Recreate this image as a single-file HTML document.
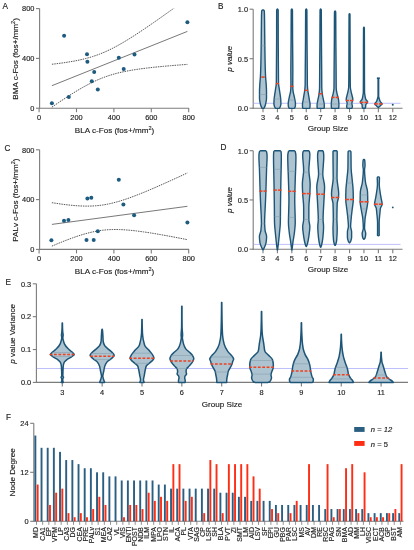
<!DOCTYPE html><html><head><meta charset="utf-8"><style>html,body{margin:0;padding:0;background:#fff;width:414px;height:550px;overflow:hidden}svg{display:block;will-change:transform;filter:blur(0.3px)} text{stroke:#222;stroke-width:0.15px}</style></head><body><svg width="414" height="550" viewBox="0 0 414 550" font-family="Liberation Sans, sans-serif" fill="#222">
<rect width="414" height="550" fill="#fff"/>
<text x="2.50" y="8.90" font-size="8.2" text-anchor="start" >A</text>
<text x="218.00" y="9.10" font-size="8.2" text-anchor="start" >B</text>
<text x="4.60" y="150.60" font-size="8.2" text-anchor="start" >C</text>
<text x="220.50" y="150.20" font-size="8.2" text-anchor="start" >D</text>
<text x="5.50" y="284.80" font-size="8.2" text-anchor="start" >E</text>
<text x="6.00" y="420.20" font-size="8.2" text-anchor="start" >F</text>
<line x1="39.60" y1="8.60" x2="39.60" y2="108.70" stroke="#7c7c7c" stroke-width="1.1" />
<line x1="39.10" y1="108.20" x2="189.10" y2="108.20" stroke="#7c7c7c" stroke-width="1.1" />
<line x1="36.00" y1="108.20" x2="39.60" y2="108.20" stroke="#7c7c7c" stroke-width="1.1" />
<text x="34.40" y="111.00" font-size="7.4" text-anchor="end" >0</text>
<line x1="36.00" y1="58.40" x2="39.60" y2="58.40" stroke="#7c7c7c" stroke-width="1.1" />
<text x="34.40" y="61.20" font-size="7.4" text-anchor="end" >400</text>
<line x1="36.00" y1="8.60" x2="39.60" y2="8.60" stroke="#7c7c7c" stroke-width="1.1" />
<text x="34.40" y="11.40" font-size="7.4" text-anchor="end" >800</text>
<line x1="39.10" y1="108.20" x2="39.10" y2="112.20" stroke="#7c7c7c" stroke-width="1.1" />
<text x="39.10" y="119.70" font-size="7.4" text-anchor="middle" >0</text>
<line x1="76.50" y1="108.20" x2="76.50" y2="112.20" stroke="#7c7c7c" stroke-width="1.1" />
<text x="76.50" y="119.70" font-size="7.4" text-anchor="middle" >200</text>
<line x1="113.90" y1="108.20" x2="113.90" y2="112.20" stroke="#7c7c7c" stroke-width="1.1" />
<text x="113.90" y="119.70" font-size="7.4" text-anchor="middle" >400</text>
<line x1="151.30" y1="108.20" x2="151.30" y2="112.20" stroke="#7c7c7c" stroke-width="1.1" />
<text x="151.30" y="119.70" font-size="7.4" text-anchor="middle" >600</text>
<line x1="188.70" y1="108.20" x2="188.70" y2="112.20" stroke="#7c7c7c" stroke-width="1.1" />
<text x="188.70" y="119.70" font-size="7.4" text-anchor="middle" >800</text>
<text x="114.5" y="132.7" font-size="8.1" text-anchor="middle">BLA c-Fos (fos+/mm<tspan dy="-2.6" font-size="5.5">2</tspan><tspan dy="2.6">)</tspan></text>
<text transform="translate(17.7,58.900000000000006) rotate(-90)" font-size="8.1" text-anchor="middle">BMA c-Fos (fos+/mm<tspan dy="-2.6" font-size="5.5">2</tspan><tspan dy="2.6">)</tspan></text>
<clipPath id="cA"><rect x="39.6" y="8.600000000000009" width="152" height="99.6"/></clipPath>
<line x1="51.90" y1="85.70" x2="187.40" y2="31.40" stroke="#555" stroke-width="0.8" />
<path d="M51.90,64.25 L55.29,63.85 L58.67,63.44 L62.06,62.99 L65.45,62.51 L68.84,61.98 L72.22,61.42 L75.61,60.80 L79.00,60.11 L82.39,59.36 L85.78,58.53 L89.16,57.61 L92.55,56.59 L95.94,55.46 L99.32,54.23 L102.71,52.88 L106.10,51.41 L109.49,49.83 L112.88,48.15 L116.26,46.36 L119.65,44.49 L123.04,42.53 L126.43,40.51 L129.81,38.42 L133.20,36.28 L136.59,34.09 L139.97,31.86 L143.36,29.60 L146.75,27.30 L150.14,24.98 L153.53,22.64 L156.91,20.28 L160.30,17.89 L163.69,15.50 L167.07,13.09 L170.46,10.66 L173.85,8.23 L177.24,5.79 L180.62,3.34 L184.01,0.88 L187.40,-1.59" fill="none" stroke="#444" stroke-width="0.9" stroke-dasharray="1.5,0.9" clip-path="url(#cA)"/>
<path d="M51.90,107.15 L55.29,104.83 L58.67,102.53 L62.06,100.27 L65.45,98.03 L68.84,95.84 L72.22,93.69 L75.61,91.60 L79.00,89.57 L82.39,87.61 L85.78,85.72 L89.16,83.93 L92.55,82.23 L95.94,80.64 L99.32,79.16 L102.71,77.80 L106.10,76.55 L109.49,75.41 L112.88,74.38 L116.26,73.45 L119.65,72.61 L123.04,71.85 L126.43,71.16 L129.81,70.53 L133.20,69.96 L136.59,69.43 L139.97,68.95 L143.36,68.50 L146.75,68.08 L150.14,67.68 L153.53,67.31 L156.91,66.96 L160.30,66.63 L163.69,66.31 L167.07,66.00 L170.46,65.71 L173.85,65.43 L177.24,65.16 L180.62,64.89 L184.01,64.64 L187.40,64.39" fill="none" stroke="#444" stroke-width="0.9" stroke-dasharray="1.5,0.9" clip-path="url(#cA)"/>
<circle cx="51.9" cy="103.2" r="2.0" fill="#1d5b80"/>
<circle cx="68.8" cy="96.9" r="2.0" fill="#1d5b80"/>
<circle cx="64.1" cy="35.8" r="2.0" fill="#1d5b80"/>
<circle cx="87" cy="54.3" r="2.0" fill="#1d5b80"/>
<circle cx="87.4" cy="61.8" r="2.0" fill="#1d5b80"/>
<circle cx="94.2" cy="72" r="2.0" fill="#1d5b80"/>
<circle cx="91.8" cy="81.2" r="2.0" fill="#1d5b80"/>
<circle cx="97.8" cy="89.4" r="2.0" fill="#1d5b80"/>
<circle cx="118.8" cy="57.7" r="2.0" fill="#1d5b80"/>
<circle cx="134.5" cy="54.6" r="2.0" fill="#1d5b80"/>
<circle cx="123.7" cy="69.1" r="2.0" fill="#1d5b80"/>
<circle cx="187.4" cy="22.2" r="2.0" fill="#1d5b80"/>
<line x1="39.60" y1="149.80" x2="39.60" y2="249.90" stroke="#7c7c7c" stroke-width="1.1" />
<line x1="39.10" y1="249.40" x2="189.10" y2="249.40" stroke="#7c7c7c" stroke-width="1.1" />
<line x1="36.00" y1="249.40" x2="39.60" y2="249.40" stroke="#7c7c7c" stroke-width="1.1" />
<text x="34.40" y="252.20" font-size="7.4" text-anchor="end" >0</text>
<line x1="36.00" y1="199.60" x2="39.60" y2="199.60" stroke="#7c7c7c" stroke-width="1.1" />
<text x="34.40" y="202.40" font-size="7.4" text-anchor="end" >400</text>
<line x1="36.00" y1="149.80" x2="39.60" y2="149.80" stroke="#7c7c7c" stroke-width="1.1" />
<text x="34.40" y="152.60" font-size="7.4" text-anchor="end" >800</text>
<line x1="39.10" y1="249.40" x2="39.10" y2="253.40" stroke="#7c7c7c" stroke-width="1.1" />
<text x="39.10" y="260.90" font-size="7.4" text-anchor="middle" >0</text>
<line x1="76.50" y1="249.40" x2="76.50" y2="253.40" stroke="#7c7c7c" stroke-width="1.1" />
<text x="76.50" y="260.90" font-size="7.4" text-anchor="middle" >200</text>
<line x1="113.90" y1="249.40" x2="113.90" y2="253.40" stroke="#7c7c7c" stroke-width="1.1" />
<text x="113.90" y="260.90" font-size="7.4" text-anchor="middle" >400</text>
<line x1="151.30" y1="249.40" x2="151.30" y2="253.40" stroke="#7c7c7c" stroke-width="1.1" />
<text x="151.30" y="260.90" font-size="7.4" text-anchor="middle" >600</text>
<line x1="188.70" y1="249.40" x2="188.70" y2="253.40" stroke="#7c7c7c" stroke-width="1.1" />
<text x="188.70" y="260.90" font-size="7.4" text-anchor="middle" >800</text>
<text x="114.5" y="273.9" font-size="8.1" text-anchor="middle">BLA c-Fos (fos+/mm<tspan dy="-2.6" font-size="5.5">2</tspan><tspan dy="2.6">)</tspan></text>
<text transform="translate(17.7,200.10000000000002) rotate(-90)" font-size="8.1" text-anchor="middle">PALv c-Fos (fos+/mm<tspan dy="-2.6" font-size="5.5">2</tspan><tspan dy="2.6">)</tspan></text>
<clipPath id="cC"><rect x="39.6" y="149.8" width="152" height="99.6"/></clipPath>
<line x1="51.90" y1="224.40" x2="187.40" y2="206.30" stroke="#555" stroke-width="0.8" />
<path d="M51.90,202.70 L55.29,203.22 L58.67,203.72 L62.06,204.19 L65.45,204.62 L68.84,205.01 L72.22,205.36 L75.61,205.65 L79.00,205.88 L82.39,206.04 L85.78,206.12 L89.16,206.10 L92.55,205.99 L95.94,205.78 L99.32,205.45 L102.71,205.00 L106.10,204.44 L109.49,203.76 L112.88,202.98 L116.26,202.09 L119.65,201.12 L123.04,200.06 L126.43,198.94 L129.81,197.75 L133.20,196.50 L136.59,195.21 L139.97,193.87 L143.36,192.51 L146.75,191.11 L150.14,189.68 L153.53,188.23 L156.91,186.76 L160.30,185.27 L163.69,183.77 L167.07,182.25 L170.46,180.72 L173.85,179.18 L177.24,177.63 L180.62,176.07 L184.01,174.50 L187.40,172.93" fill="none" stroke="#444" stroke-width="0.9" stroke-dasharray="1.5,0.9" clip-path="url(#cC)"/>
<path d="M51.90,246.10 L55.29,244.68 L58.67,243.27 L62.06,241.90 L65.45,240.56 L68.84,239.26 L72.22,238.01 L75.61,236.82 L79.00,235.68 L82.39,234.62 L85.78,233.63 L89.16,232.74 L92.55,231.95 L95.94,231.26 L99.32,230.68 L102.71,230.22 L106.10,229.88 L109.49,229.65 L112.88,229.53 L116.26,229.51 L119.65,229.58 L123.04,229.73 L126.43,229.95 L129.81,230.24 L133.20,230.58 L136.59,230.97 L139.97,231.40 L143.36,231.86 L146.75,232.35 L150.14,232.88 L153.53,233.42 L156.91,233.99 L160.30,234.57 L163.69,235.17 L167.07,235.78 L170.46,236.41 L173.85,237.04 L177.24,237.69 L180.62,238.34 L184.01,239.00 L187.40,239.67" fill="none" stroke="#444" stroke-width="0.9" stroke-dasharray="1.5,0.9" clip-path="url(#cC)"/>
<circle cx="51.4" cy="240.2" r="2.0" fill="#1d5b80"/>
<circle cx="64" cy="220.7" r="2.0" fill="#1d5b80"/>
<circle cx="68.4" cy="220" r="2.0" fill="#1d5b80"/>
<circle cx="86.5" cy="240" r="2.0" fill="#1d5b80"/>
<circle cx="93.7" cy="240" r="2.0" fill="#1d5b80"/>
<circle cx="87.4" cy="198.5" r="2.0" fill="#1d5b80"/>
<circle cx="91.3" cy="197.8" r="2.0" fill="#1d5b80"/>
<circle cx="97.8" cy="231.2" r="2.0" fill="#1d5b80"/>
<circle cx="118.8" cy="179.7" r="2.0" fill="#1d5b80"/>
<circle cx="123.4" cy="204.6" r="2.0" fill="#1d5b80"/>
<circle cx="134.1" cy="215.2" r="2.0" fill="#1d5b80"/>
<circle cx="187.4" cy="222.4" r="2.0" fill="#1d5b80"/>
<line x1="253.20" y1="9.20" x2="253.20" y2="108.70" stroke="#7c7c7c" stroke-width="1.1" />
<line x1="252.70" y1="108.20" x2="402.50" y2="108.20" stroke="#7c7c7c" stroke-width="1.1" />
<line x1="249.60" y1="108.20" x2="253.20" y2="108.20" stroke="#7c7c7c" stroke-width="1.1" />
<text x="248.00" y="111.00" font-size="7.4" text-anchor="end" >0.0</text>
<line x1="249.60" y1="58.70" x2="253.20" y2="58.70" stroke="#7c7c7c" stroke-width="1.1" />
<text x="248.00" y="61.50" font-size="7.4" text-anchor="end" >0.5</text>
<line x1="249.60" y1="9.20" x2="253.20" y2="9.20" stroke="#7c7c7c" stroke-width="1.1" />
<text x="248.00" y="12.00" font-size="7.4" text-anchor="end" >1.0</text>
<line x1="253.70" y1="103.30" x2="400.50" y2="103.30" stroke="#adb0fb" stroke-width="0.8" />
<line x1="263.00" y1="108.20" x2="263.00" y2="112.20" stroke="#7c7c7c" stroke-width="1.1" />
<text x="263.00" y="120.20" font-size="7.4" text-anchor="middle" >3</text>
<line x1="277.42" y1="108.20" x2="277.42" y2="112.20" stroke="#7c7c7c" stroke-width="1.1" />
<text x="277.42" y="120.20" font-size="7.4" text-anchor="middle" >4</text>
<line x1="291.84" y1="108.20" x2="291.84" y2="112.20" stroke="#7c7c7c" stroke-width="1.1" />
<text x="291.84" y="120.20" font-size="7.4" text-anchor="middle" >5</text>
<line x1="306.26" y1="108.20" x2="306.26" y2="112.20" stroke="#7c7c7c" stroke-width="1.1" />
<text x="306.26" y="120.20" font-size="7.4" text-anchor="middle" >6</text>
<line x1="320.68" y1="108.20" x2="320.68" y2="112.20" stroke="#7c7c7c" stroke-width="1.1" />
<text x="320.68" y="120.20" font-size="7.4" text-anchor="middle" >7</text>
<line x1="335.10" y1="108.20" x2="335.10" y2="112.20" stroke="#7c7c7c" stroke-width="1.1" />
<text x="335.10" y="120.20" font-size="7.4" text-anchor="middle" >8</text>
<line x1="349.52" y1="108.20" x2="349.52" y2="112.20" stroke="#7c7c7c" stroke-width="1.1" />
<text x="349.52" y="120.20" font-size="7.4" text-anchor="middle" >9</text>
<line x1="363.94" y1="108.20" x2="363.94" y2="112.20" stroke="#7c7c7c" stroke-width="1.1" />
<text x="363.94" y="120.20" font-size="7.4" text-anchor="middle" >10</text>
<line x1="378.36" y1="108.20" x2="378.36" y2="112.20" stroke="#7c7c7c" stroke-width="1.1" />
<text x="378.36" y="120.20" font-size="7.4" text-anchor="middle" >11</text>
<line x1="392.78" y1="108.20" x2="392.78" y2="112.20" stroke="#7c7c7c" stroke-width="1.1" />
<text x="392.78" y="120.20" font-size="7.4" text-anchor="middle" >12</text>
<text x="328.00" y="131.00" font-size="8.1" text-anchor="middle" >Group Size</text>
<text transform="translate(232,58.7) rotate(-90)" font-size="8.1" text-anchor="middle" font-style="italic">p value</text>
<path d="M263.00,10.00 L263.50,10.00 C263.77,10.33 264.28,10.67 264.30,11.00 C264.57,15.33 264.54,19.67 264.60,24.00 C264.69,30.33 264.72,36.67 264.80,43.00 C264.88,49.33 264.97,55.67 265.10,62.00 C265.15,64.67 265.22,67.33 265.30,70.00 C265.37,72.37 265.47,74.73 265.60,77.10 C265.71,79.07 265.98,81.03 266.10,83.00 C266.28,85.90 266.50,88.80 266.50,91.70 C266.50,93.90 266.50,96.10 266.50,98.30 C266.50,99.73 266.16,101.17 265.90,102.60 C265.73,103.57 265.50,104.53 265.20,105.50 C265.00,106.13 264.72,106.77 264.40,107.40 C264.23,107.73 264.00,108.07 263.80,108.40 L263.00,108.40 L262.20,108.40 C262.00,108.07 261.77,107.73 261.60,107.40 C261.28,106.77 261.00,106.13 260.80,105.50 C260.50,104.53 260.27,103.57 260.10,102.60 C259.84,101.17 259.50,99.73 259.50,98.30 C259.50,96.10 259.50,93.90 259.50,91.70 C259.50,88.80 259.72,85.90 259.90,83.00 C260.02,81.03 260.29,79.07 260.40,77.10 C260.53,74.73 260.63,72.37 260.70,70.00 C260.78,67.33 260.85,64.67 260.90,62.00 C261.03,55.67 261.12,49.33 261.20,43.00 C261.28,36.67 261.31,30.33 261.40,24.00 C261.46,19.67 261.43,15.33 261.70,11.00 C261.72,10.67 262.23,10.33 262.50,10.00 Z" fill="#adc3d0" stroke="#1c5578" stroke-width="1.4" stroke-linejoin="round"/>
<line x1="261.16" y1="45.70" x2="264.84" y2="45.70" stroke="#7f98a8" stroke-width="0.5" />
<line x1="259.50" y1="94.50" x2="266.50" y2="94.50" stroke="#7f98a8" stroke-width="0.5" />
<line x1="261.30" y1="77.10" x2="264.70" y2="77.10" stroke="#f0401e" stroke-width="1.5" />
<path d="M277.42,9.00 L277.57,9.00 C277.77,9.33 278.17,9.67 278.17,10.00 C278.22,20.00 278.19,30.00 278.22,40.00 C278.25,50.00 278.35,60.00 278.42,70.00 C278.45,74.53 278.45,79.07 278.52,83.60 C278.55,85.23 278.98,86.87 279.22,88.50 C279.48,90.30 279.77,92.10 280.02,93.90 C280.27,95.70 280.60,97.50 280.72,99.30 C280.82,100.77 280.92,102.23 280.92,103.70 C280.92,104.60 280.69,105.50 280.42,106.40 C280.28,106.87 279.97,107.33 279.62,107.80 C279.47,108.00 279.22,108.20 279.02,108.40 L277.42,108.40 L275.82,108.40 C275.62,108.20 275.37,108.00 275.22,107.80 C274.87,107.33 274.56,106.87 274.42,106.40 C274.15,105.50 273.92,104.60 273.92,103.70 C273.92,102.23 274.02,100.77 274.12,99.30 C274.24,97.50 274.57,95.70 274.82,93.90 C275.07,92.10 275.36,90.30 275.62,88.50 C275.86,86.87 276.29,85.23 276.32,83.60 C276.39,79.07 276.39,74.53 276.42,70.00 C276.49,60.00 276.59,50.00 276.62,40.00 C276.65,30.00 276.62,20.00 276.67,10.00 C276.67,9.67 277.07,9.33 277.27,9.00 Z" fill="#adc3d0" stroke="#1c5578" stroke-width="1.4" stroke-linejoin="round"/>
<line x1="274.16" y1="99.00" x2="280.68" y2="99.00" stroke="#7f98a8" stroke-width="0.5" />
<line x1="275.82" y1="83.60" x2="279.02" y2="83.60" stroke="#f0401e" stroke-width="1.5" />
<path d="M291.84,9.00 L291.99,9.00 C292.14,9.33 292.44,9.67 292.44,10.00 C292.58,20.00 292.53,30.00 292.59,40.00 C292.65,50.00 292.84,60.00 292.84,70.00 C292.84,75.43 292.74,80.87 292.74,86.30 C292.74,88.10 292.93,89.90 293.14,91.70 C293.30,93.13 293.83,94.57 294.14,96.00 C294.42,97.30 294.71,98.60 294.94,99.90 C295.13,101.00 295.44,102.10 295.44,103.20 C295.44,104.10 295.42,105.00 295.39,105.90 C295.37,106.47 295.11,107.03 294.84,107.60 C294.71,107.87 294.44,108.13 294.24,108.40 L291.84,108.40 L289.44,108.40 C289.24,108.13 288.97,107.87 288.84,107.60 C288.57,107.03 288.31,106.47 288.29,105.90 C288.26,105.00 288.24,104.10 288.24,103.20 C288.24,102.10 288.55,101.00 288.74,99.90 C288.97,98.60 289.26,97.30 289.54,96.00 C289.85,94.57 290.38,93.13 290.54,91.70 C290.75,89.90 290.94,88.10 290.94,86.30 C290.94,80.87 290.84,75.43 290.84,70.00 C290.84,60.00 291.03,50.00 291.09,40.00 C291.15,30.00 291.10,20.00 291.24,10.00 C291.24,9.67 291.54,9.33 291.69,9.00 Z" fill="#adc3d0" stroke="#1c5578" stroke-width="1.4" stroke-linejoin="round"/>
<line x1="288.72" y1="100.00" x2="294.96" y2="100.00" stroke="#7f98a8" stroke-width="0.5" />
<line x1="290.24" y1="86.30" x2="293.44" y2="86.30" stroke="#f0401e" stroke-width="1.5" />
<path d="M306.26,9.00 L306.41,9.00 C306.56,9.33 306.86,9.67 306.86,10.00 C307.00,20.00 306.95,30.00 307.01,40.00 C307.07,50.00 307.19,60.00 307.26,70.00 C307.30,75.00 307.29,80.00 307.36,85.00 C307.38,86.67 307.58,88.33 307.76,90.00 C307.94,91.67 308.29,93.33 308.56,95.00 C308.83,96.67 309.10,98.33 309.36,100.00 C309.60,101.50 310.06,103.00 310.06,104.50 C310.06,105.40 310.03,106.30 309.96,107.20 C309.93,107.60 309.63,108.00 309.46,108.40 L306.26,108.40 L303.06,108.40 C302.89,108.00 302.59,107.60 302.56,107.20 C302.49,106.30 302.46,105.40 302.46,104.50 C302.46,103.00 302.92,101.50 303.16,100.00 C303.42,98.33 303.69,96.67 303.96,95.00 C304.23,93.33 304.58,91.67 304.76,90.00 C304.94,88.33 305.14,86.67 305.16,85.00 C305.23,80.00 305.22,75.00 305.26,70.00 C305.33,60.00 305.45,50.00 305.51,40.00 C305.57,30.00 305.52,20.00 305.66,10.00 C305.66,9.67 305.96,9.33 306.11,9.00 Z" fill="#adc3d0" stroke="#1c5578" stroke-width="1.4" stroke-linejoin="round"/>
<line x1="302.85" y1="102.00" x2="309.67" y2="102.00" stroke="#7f98a8" stroke-width="0.5" />
<line x1="304.56" y1="90.30" x2="307.96" y2="90.30" stroke="#f0401e" stroke-width="1.5" />
<path d="M320.68,9.00 L320.83,9.00 C320.98,9.33 321.28,9.67 321.28,10.00 C321.42,20.00 321.37,30.00 321.43,40.00 C321.49,50.00 321.61,60.00 321.68,70.00 C321.72,76.00 321.71,82.00 321.78,88.00 C321.81,90.33 322.16,92.67 322.48,95.00 C322.71,96.67 323.18,98.33 323.48,100.00 C323.78,101.67 324.28,103.33 324.28,105.00 C324.28,105.80 324.28,106.60 324.28,107.40 C324.28,107.73 324.01,108.07 323.88,108.40 L320.68,108.40 L317.48,108.40 C317.35,108.07 317.08,107.73 317.08,107.40 C317.08,106.60 317.08,105.80 317.08,105.00 C317.08,103.33 317.58,101.67 317.88,100.00 C318.18,98.33 318.65,96.67 318.88,95.00 C319.20,92.67 319.55,90.33 319.58,88.00 C319.65,82.00 319.64,76.00 319.68,70.00 C319.75,60.00 319.87,50.00 319.93,40.00 C319.99,30.00 319.94,20.00 320.08,10.00 C320.08,9.67 320.38,9.33 320.53,9.00 Z" fill="#adc3d0" stroke="#1c5578" stroke-width="1.4" stroke-linejoin="round"/>
<line x1="317.24" y1="104.00" x2="324.12" y2="104.00" stroke="#7f98a8" stroke-width="0.5" />
<line x1="318.78" y1="93.80" x2="322.58" y2="93.80" stroke="#f0401e" stroke-width="1.5" />
<path d="M335.10,11.00 L335.25,11.00 C335.40,11.33 335.69,11.67 335.70,12.00 C335.84,21.33 335.79,30.67 335.85,40.00 C335.92,50.00 336.03,60.00 336.10,70.00 C336.14,76.00 336.12,82.00 336.20,88.00 C336.22,89.67 336.60,91.33 336.90,93.00 C337.14,94.33 337.58,95.67 337.90,97.00 C338.14,98.00 338.50,99.00 338.60,100.00 C338.77,101.67 338.90,103.33 338.90,105.00 C338.90,105.80 338.87,106.60 338.80,107.40 C338.77,107.73 338.53,108.07 338.40,108.40 L335.10,108.40 L331.80,108.40 C331.67,108.07 331.43,107.73 331.40,107.40 C331.33,106.60 331.30,105.80 331.30,105.00 C331.30,103.33 331.43,101.67 331.60,100.00 C331.70,99.00 332.06,98.00 332.30,97.00 C332.62,95.67 333.06,94.33 333.30,93.00 C333.60,91.33 333.98,89.67 334.00,88.00 C334.08,82.00 334.06,76.00 334.10,70.00 C334.17,60.00 334.28,50.00 334.35,40.00 C334.41,30.67 334.36,21.33 334.50,12.00 C334.51,11.67 334.80,11.33 334.95,11.00 Z" fill="#adc3d0" stroke="#1c5578" stroke-width="1.4" stroke-linejoin="round"/>
<line x1="331.36" y1="104.00" x2="338.84" y2="104.00" stroke="#7f98a8" stroke-width="0.5" />
<line x1="331.51" y1="97.40" x2="334.55" y2="97.40" stroke="#f0401e" stroke-width="1.5" />
<line x1="335.65" y1="97.40" x2="338.69" y2="97.40" stroke="#f0401e" stroke-width="1.5" />
<path d="M349.52,13.60 L349.67,13.60 C349.77,13.90 349.97,14.20 349.97,14.50 C350.11,29.67 350.05,44.83 350.12,60.00 C350.16,68.93 350.16,77.87 350.32,86.80 C350.35,88.77 350.94,90.73 351.32,92.70 C351.75,94.97 352.82,97.23 352.82,99.50 C352.82,100.80 351.82,102.10 351.82,103.40 C351.82,104.37 352.42,105.33 352.42,106.30 C352.42,106.80 352.30,107.30 352.12,107.80 C352.05,108.00 351.72,108.20 351.52,108.40 L349.52,108.40 L347.52,108.40 C347.32,108.20 346.99,108.00 346.92,107.80 C346.74,107.30 346.62,106.80 346.62,106.30 C346.62,105.33 347.22,104.37 347.22,103.40 C347.22,102.10 346.22,100.80 346.22,99.50 C346.22,97.23 347.29,94.97 347.72,92.70 C348.10,90.73 348.69,88.77 348.72,86.80 C348.88,77.87 348.88,68.93 348.92,60.00 C348.99,44.83 348.93,29.67 349.07,14.50 C349.07,14.20 349.27,13.90 349.37,13.60 Z" fill="#adc3d0" stroke="#1c5578" stroke-width="1.4" stroke-linejoin="round"/>
<line x1="347.10" y1="104.00" x2="351.94" y2="104.00" stroke="#7f98a8" stroke-width="0.5" />
<line x1="345.78" y1="100.50" x2="348.97" y2="100.50" stroke="#f0401e" stroke-width="1.5" />
<line x1="350.07" y1="100.50" x2="353.26" y2="100.50" stroke="#f0401e" stroke-width="1.5" />
<path d="M363.94,27.20 L364.09,27.20 C364.17,27.47 364.34,27.73 364.34,28.00 C364.44,38.67 364.41,49.33 364.44,60.00 C364.47,70.67 364.45,81.33 364.54,92.00 C364.55,93.33 364.83,94.67 365.04,96.00 C365.21,97.10 365.37,98.20 365.74,99.30 C366.04,100.20 367.64,101.10 367.64,102.00 C367.64,102.93 365.82,103.87 365.74,104.80 C365.68,105.53 365.70,106.27 365.64,107.00 C365.60,107.43 365.31,107.87 365.14,108.30 L363.94,108.30 L362.74,108.30 C362.57,107.87 362.28,107.43 362.24,107.00 C362.18,106.27 362.20,105.53 362.14,104.80 C362.06,103.87 360.24,102.93 360.24,102.00 C360.24,101.10 361.84,100.20 362.14,99.30 C362.51,98.20 362.67,97.10 362.84,96.00 C363.05,94.67 363.33,93.33 363.34,92.00 C363.43,81.33 363.41,70.67 363.44,60.00 C363.47,49.33 363.44,38.67 363.54,28.00 C363.54,27.73 363.71,27.47 363.79,27.20 Z" fill="#adc3d0" stroke="#1c5578" stroke-width="1.4" stroke-linejoin="round"/>
<line x1="359.81" y1="102.40" x2="363.39" y2="102.40" stroke="#f0401e" stroke-width="1.5" />
<line x1="364.49" y1="102.40" x2="368.07" y2="102.40" stroke="#f0401e" stroke-width="1.5" />
<path d="M378.36,79.00 L378.66,79.00 C378.66,79.33 378.66,79.67 378.66,80.00 C378.66,85.33 378.66,90.67 378.66,96.00 C378.66,96.83 378.95,97.67 379.16,98.50 C379.41,99.50 379.69,100.50 380.16,101.50 C380.53,102.30 381.96,103.10 381.96,103.90 C381.96,104.57 380.82,105.23 380.16,105.90 C379.70,106.37 378.96,106.83 378.66,107.30 C378.60,107.40 378.56,107.50 378.51,107.60 L378.36,107.60 L378.21,107.60 C378.16,107.50 378.12,107.40 378.06,107.30 C377.76,106.83 377.02,106.37 376.56,105.90 C375.90,105.23 374.76,104.57 374.76,103.90 C374.76,103.10 376.19,102.30 376.56,101.50 C377.03,100.50 377.31,99.50 377.56,98.50 C377.77,97.67 378.06,96.83 378.06,96.00 C378.06,90.67 378.06,85.33 378.06,80.00 C378.06,79.67 378.06,79.33 378.06,79.00 Z" fill="#adc3d0" stroke="#1c5578" stroke-width="1.4" stroke-linejoin="round"/>
<line x1="374.06" y1="103.90" x2="377.81" y2="103.90" stroke="#f0401e" stroke-width="1.5" />
<line x1="378.91" y1="103.90" x2="382.66" y2="103.90" stroke="#f0401e" stroke-width="1.5" />
<line x1="376.86" y1="78.2" x2="379.86" y2="78.2" stroke="#1c5578" stroke-width="1.6"/>
<circle cx="392.78" cy="104.8" r="1.0" fill="#1c5578"/>
<line x1="253.20" y1="150.70" x2="253.20" y2="249.70" stroke="#7c7c7c" stroke-width="1.1" />
<line x1="252.70" y1="249.20" x2="402.50" y2="249.20" stroke="#7c7c7c" stroke-width="1.1" />
<line x1="249.60" y1="249.20" x2="253.20" y2="249.20" stroke="#7c7c7c" stroke-width="1.1" />
<text x="248.00" y="252.00" font-size="7.4" text-anchor="end" >0.0</text>
<line x1="249.60" y1="199.95" x2="253.20" y2="199.95" stroke="#7c7c7c" stroke-width="1.1" />
<text x="248.00" y="202.75" font-size="7.4" text-anchor="end" >0.5</text>
<line x1="249.60" y1="150.70" x2="253.20" y2="150.70" stroke="#7c7c7c" stroke-width="1.1" />
<text x="248.00" y="153.50" font-size="7.4" text-anchor="end" >1.0</text>
<line x1="253.70" y1="244.40" x2="400.50" y2="244.40" stroke="#adb0fb" stroke-width="0.8" />
<line x1="263.00" y1="249.20" x2="263.00" y2="253.20" stroke="#7c7c7c" stroke-width="1.1" />
<text x="263.00" y="261.20" font-size="7.4" text-anchor="middle" >3</text>
<line x1="277.42" y1="249.20" x2="277.42" y2="253.20" stroke="#7c7c7c" stroke-width="1.1" />
<text x="277.42" y="261.20" font-size="7.4" text-anchor="middle" >4</text>
<line x1="291.84" y1="249.20" x2="291.84" y2="253.20" stroke="#7c7c7c" stroke-width="1.1" />
<text x="291.84" y="261.20" font-size="7.4" text-anchor="middle" >5</text>
<line x1="306.26" y1="249.20" x2="306.26" y2="253.20" stroke="#7c7c7c" stroke-width="1.1" />
<text x="306.26" y="261.20" font-size="7.4" text-anchor="middle" >6</text>
<line x1="320.68" y1="249.20" x2="320.68" y2="253.20" stroke="#7c7c7c" stroke-width="1.1" />
<text x="320.68" y="261.20" font-size="7.4" text-anchor="middle" >7</text>
<line x1="335.10" y1="249.20" x2="335.10" y2="253.20" stroke="#7c7c7c" stroke-width="1.1" />
<text x="335.10" y="261.20" font-size="7.4" text-anchor="middle" >8</text>
<line x1="349.52" y1="249.20" x2="349.52" y2="253.20" stroke="#7c7c7c" stroke-width="1.1" />
<text x="349.52" y="261.20" font-size="7.4" text-anchor="middle" >9</text>
<line x1="363.94" y1="249.20" x2="363.94" y2="253.20" stroke="#7c7c7c" stroke-width="1.1" />
<text x="363.94" y="261.20" font-size="7.4" text-anchor="middle" >10</text>
<line x1="378.36" y1="249.20" x2="378.36" y2="253.20" stroke="#7c7c7c" stroke-width="1.1" />
<text x="378.36" y="261.20" font-size="7.4" text-anchor="middle" >11</text>
<line x1="392.78" y1="249.20" x2="392.78" y2="253.20" stroke="#7c7c7c" stroke-width="1.1" />
<text x="392.78" y="261.20" font-size="7.4" text-anchor="middle" >12</text>
<text x="328.00" y="272.10" font-size="8.1" text-anchor="middle" >Group Size</text>
<text transform="translate(232,199.95) rotate(-90)" font-size="8.1" text-anchor="middle" font-style="italic">p value</text>
<path d="M263.00,150.80 L265.60,150.80 C265.90,151.03 266.44,151.27 266.50,151.50 C266.97,153.23 267.10,154.97 267.10,156.70 C267.10,160.57 266.74,164.43 266.60,168.30 C266.41,173.50 266.25,178.70 266.10,183.90 C266.03,186.30 265.98,188.70 265.90,191.10 C265.77,195.20 265.57,199.30 265.40,203.40 C265.14,209.87 264.60,216.33 264.60,222.80 C264.60,225.40 264.82,228.00 265.10,230.60 C265.30,232.53 266.60,234.47 266.60,236.40 C266.60,238.37 266.37,240.33 266.10,242.30 C265.89,243.87 265.22,245.43 264.60,247.00 C264.23,247.93 263.67,248.87 263.20,249.80 L263.00,249.80 L262.80,249.80 C262.33,248.87 261.77,247.93 261.40,247.00 C260.78,245.43 260.11,243.87 259.90,242.30 C259.63,240.33 259.40,238.37 259.40,236.40 C259.40,234.47 260.70,232.53 260.90,230.60 C261.18,228.00 261.40,225.40 261.40,222.80 C261.40,216.33 260.86,209.87 260.60,203.40 C260.43,199.30 260.23,195.20 260.10,191.10 C260.02,188.70 259.97,186.30 259.90,183.90 C259.75,178.70 259.59,173.50 259.40,168.30 C259.26,164.43 258.90,160.57 258.90,156.70 C258.90,154.97 259.03,153.23 259.50,151.50 C259.56,151.27 260.10,151.03 260.40,150.80 Z" fill="#adc3d0" stroke="#1c5578" stroke-width="1.4" stroke-linejoin="round"/>
<line x1="259.36" y1="167.40" x2="266.64" y2="167.40" stroke="#7f98a8" stroke-width="0.5" />
<line x1="261.34" y1="223.80" x2="264.66" y2="223.80" stroke="#7f98a8" stroke-width="0.5" />
<line x1="259.40" y1="191.10" x2="262.45" y2="191.10" stroke="#f0401e" stroke-width="1.5" />
<line x1="263.55" y1="191.10" x2="266.60" y2="191.10" stroke="#f0401e" stroke-width="1.5" />
<path d="M277.42,150.80 L280.22,150.80 C280.49,151.03 280.99,151.27 281.02,151.50 C281.27,153.23 281.32,154.97 281.32,156.70 C281.32,165.77 280.97,174.83 280.82,183.90 C280.71,190.40 280.60,196.90 280.52,203.40 C280.44,209.87 280.45,216.33 280.32,222.80 C280.26,226.03 279.81,229.27 279.52,232.50 C279.22,235.77 278.89,239.03 278.52,242.30 C278.24,244.80 277.89,247.30 277.57,249.80 L277.42,249.80 L277.27,249.80 C276.95,247.30 276.60,244.80 276.32,242.30 C275.95,239.03 275.62,235.77 275.32,232.50 C275.03,229.27 274.58,226.03 274.52,222.80 C274.39,216.33 274.40,209.87 274.32,203.40 C274.24,196.90 274.13,190.40 274.02,183.90 C273.87,174.83 273.52,165.77 273.52,156.70 C273.52,154.97 273.57,153.23 273.82,151.50 C273.85,151.27 274.35,151.03 274.62,150.80 Z" fill="#adc3d0" stroke="#1c5578" stroke-width="1.4" stroke-linejoin="round"/>
<line x1="273.75" y1="169.30" x2="281.09" y2="169.30" stroke="#7f98a8" stroke-width="0.5" />
<line x1="274.46" y1="216.60" x2="280.38" y2="216.60" stroke="#7f98a8" stroke-width="0.5" />
<line x1="273.42" y1="190.10" x2="276.87" y2="190.10" stroke="#f0401e" stroke-width="1.5" />
<line x1="277.97" y1="190.10" x2="281.42" y2="190.10" stroke="#f0401e" stroke-width="1.5" />
<path d="M291.84,150.80 L294.44,150.80 C294.71,151.03 295.17,151.27 295.24,151.50 C295.76,153.23 295.94,154.97 295.94,156.70 C295.94,164.47 295.45,172.23 295.24,180.00 C295.06,186.50 294.74,193.00 294.74,199.50 C294.74,207.27 295.24,215.03 295.24,222.80 C295.24,226.03 294.79,229.27 294.44,232.50 C294.09,235.77 293.39,239.03 292.94,242.30 C292.59,244.80 292.31,247.30 291.99,249.80 L291.84,249.80 L291.69,249.80 C291.37,247.30 291.09,244.80 290.74,242.30 C290.29,239.03 289.59,235.77 289.24,232.50 C288.89,229.27 288.44,226.03 288.44,222.80 C288.44,215.03 288.94,207.27 288.94,199.50 C288.94,193.00 288.62,186.50 288.44,180.00 C288.23,172.23 287.74,164.47 287.74,156.70 C287.74,154.97 287.92,153.23 288.44,151.50 C288.51,151.27 288.97,151.03 289.24,150.80 Z" fill="#adc3d0" stroke="#1c5578" stroke-width="1.4" stroke-linejoin="round"/>
<line x1="288.18" y1="171.30" x2="295.50" y2="171.30" stroke="#7f98a8" stroke-width="0.5" />
<line x1="288.56" y1="217.40" x2="295.12" y2="217.40" stroke="#7f98a8" stroke-width="0.5" />
<line x1="288.03" y1="191.30" x2="291.29" y2="191.30" stroke="#f0401e" stroke-width="1.5" />
<line x1="292.39" y1="191.30" x2="295.65" y2="191.30" stroke="#f0401e" stroke-width="1.5" />
<path d="M306.26,150.80 L308.66,150.80 C308.89,151.03 309.29,151.27 309.36,151.50 C309.70,152.57 309.86,153.63 309.86,154.70 C309.86,159.90 308.86,165.10 308.86,170.30 C308.86,174.83 310.16,179.37 310.16,183.90 C310.16,187.13 310.00,190.37 309.86,193.60 C309.67,198.17 308.86,202.73 308.86,207.30 C308.86,211.37 308.86,215.43 308.86,219.50 C308.86,221.90 309.86,224.30 309.86,226.70 C309.86,229.93 309.30,233.17 308.86,236.40 C308.51,238.93 308.06,241.47 307.36,244.00 C307.13,244.83 306.73,245.67 306.41,246.50 L306.26,246.50 L306.11,246.50 C305.79,245.67 305.39,244.83 305.16,244.00 C304.46,241.47 304.01,238.93 303.66,236.40 C303.22,233.17 302.66,229.93 302.66,226.70 C302.66,224.30 303.66,221.90 303.66,219.50 C303.66,215.43 303.66,211.37 303.66,207.30 C303.66,202.73 302.85,198.17 302.66,193.60 C302.52,190.37 302.36,187.13 302.36,183.90 C302.36,179.37 303.66,174.83 303.66,170.30 C303.66,165.10 302.66,159.90 302.66,154.70 C302.66,153.63 302.82,152.57 303.16,151.50 C303.23,151.27 303.63,151.03 303.86,150.80 Z" fill="#adc3d0" stroke="#1c5578" stroke-width="1.4" stroke-linejoin="round"/>
<line x1="303.48" y1="172.20" x2="309.04" y2="172.20" stroke="#7f98a8" stroke-width="0.5" />
<line x1="303.66" y1="219.50" x2="308.86" y2="219.50" stroke="#7f98a8" stroke-width="0.5" />
<line x1="301.96" y1="193.60" x2="305.71" y2="193.60" stroke="#f0401e" stroke-width="1.5" />
<line x1="306.81" y1="193.60" x2="310.56" y2="193.60" stroke="#f0401e" stroke-width="1.5" />
<path d="M320.68,150.80 L322.68,150.80 C322.88,151.03 323.23,151.27 323.28,151.50 C323.66,153.23 323.78,154.97 323.78,156.70 C323.78,162.53 322.78,168.37 322.78,174.20 C322.78,178.40 324.58,182.60 324.58,186.80 C324.58,189.27 324.39,191.73 324.28,194.20 C324.14,197.27 323.93,200.33 323.78,203.40 C323.52,208.77 323.08,214.13 323.08,219.50 C323.08,221.90 323.58,224.30 323.58,226.70 C323.58,230.60 323.18,234.50 322.78,238.40 C322.55,240.60 322.12,242.80 321.58,245.00 C321.39,245.77 321.08,246.53 320.83,247.30 L320.68,247.30 L320.53,247.30 C320.28,246.53 319.97,245.77 319.78,245.00 C319.24,242.80 318.81,240.60 318.58,238.40 C318.18,234.50 317.78,230.60 317.78,226.70 C317.78,224.30 318.28,221.90 318.28,219.50 C318.28,214.13 317.84,208.77 317.58,203.40 C317.43,200.33 317.22,197.27 317.08,194.20 C316.97,191.73 316.78,189.27 316.78,186.80 C316.78,182.60 318.58,178.40 318.58,174.20 C318.58,168.37 317.58,162.53 317.58,156.70 C317.58,154.97 317.70,153.23 318.08,151.50 C318.13,151.27 318.48,151.03 318.68,150.80 Z" fill="#adc3d0" stroke="#1c5578" stroke-width="1.4" stroke-linejoin="round"/>
<line x1="318.57" y1="174.00" x2="322.79" y2="174.00" stroke="#7f98a8" stroke-width="0.5" />
<line x1="318.28" y1="219.50" x2="323.08" y2="219.50" stroke="#7f98a8" stroke-width="0.5" />
<line x1="316.38" y1="194.20" x2="320.13" y2="194.20" stroke="#f0401e" stroke-width="1.5" />
<line x1="321.23" y1="194.20" x2="324.98" y2="194.20" stroke="#f0401e" stroke-width="1.5" />
<path d="M335.10,150.80 L336.70,150.80 C336.87,151.03 337.20,151.27 337.20,151.50 C337.20,153.23 337.20,154.97 337.20,156.70 C337.20,163.80 337.00,170.90 337.00,178.00 C337.00,183.20 338.70,188.40 338.70,193.60 C338.70,194.90 338.60,196.20 338.50,197.50 C338.34,199.47 337.28,201.43 337.20,203.40 C336.99,208.57 336.90,213.73 336.90,218.90 C336.90,222.17 337.20,225.43 337.20,228.70 C337.20,232.57 337.01,236.43 336.70,240.30 C336.60,241.53 336.28,242.77 335.90,244.00 C335.75,244.47 335.47,244.93 335.25,245.40 L335.10,245.40 L334.95,245.40 C334.73,244.93 334.45,244.47 334.30,244.00 C333.92,242.77 333.60,241.53 333.50,240.30 C333.19,236.43 333.00,232.57 333.00,228.70 C333.00,225.43 333.30,222.17 333.30,218.90 C333.30,213.73 333.21,208.57 333.00,203.40 C332.92,201.43 331.86,199.47 331.70,197.50 C331.60,196.20 331.50,194.90 331.50,193.60 C331.50,188.40 333.20,183.20 333.20,178.00 C333.20,170.90 333.00,163.80 333.00,156.70 C333.00,154.97 333.00,153.23 333.00,151.50 C333.00,151.27 333.33,151.03 333.50,150.80 Z" fill="#adc3d0" stroke="#1c5578" stroke-width="1.4" stroke-linejoin="round"/>
<line x1="333.20" y1="178.00" x2="337.00" y2="178.00" stroke="#7f98a8" stroke-width="0.5" />
<line x1="333.30" y1="219.00" x2="336.90" y2="219.00" stroke="#7f98a8" stroke-width="0.5" />
<line x1="331.00" y1="197.50" x2="334.55" y2="197.50" stroke="#f0401e" stroke-width="1.5" />
<line x1="335.65" y1="197.50" x2="339.20" y2="197.50" stroke="#f0401e" stroke-width="1.5" />
<path d="M349.52,150.90 L350.32,150.90 C350.52,151.17 350.91,151.43 350.92,151.70 C351.11,157.20 351.00,162.70 351.12,168.20 C351.20,171.80 351.79,175.40 352.12,179.00 C352.46,182.67 353.00,186.33 353.12,190.00 C353.23,193.17 353.32,196.33 353.32,199.50 C353.32,203.00 352.51,206.50 352.12,210.00 C351.78,213.00 351.37,216.00 351.12,219.00 C350.91,221.47 350.62,223.93 350.62,226.40 C350.62,228.20 351.62,230.00 351.62,231.80 C351.62,233.63 351.62,235.47 351.62,237.30 C351.62,238.70 351.19,240.10 350.62,241.50 C350.46,241.90 349.99,242.30 349.67,242.70 L349.52,242.70 L349.37,242.70 C349.05,242.30 348.58,241.90 348.42,241.50 C347.85,240.10 347.42,238.70 347.42,237.30 C347.42,235.47 347.42,233.63 347.42,231.80 C347.42,230.00 348.42,228.20 348.42,226.40 C348.42,223.93 348.13,221.47 347.92,219.00 C347.67,216.00 347.26,213.00 346.92,210.00 C346.53,206.50 345.72,203.00 345.72,199.50 C345.72,196.33 345.81,193.17 345.92,190.00 C346.04,186.33 346.58,182.67 346.92,179.00 C347.25,175.40 347.84,171.80 347.92,168.20 C348.04,162.70 347.93,157.20 348.12,151.70 C348.13,151.43 348.52,151.17 348.72,150.90 Z" fill="#adc3d0" stroke="#1c5578" stroke-width="1.4" stroke-linejoin="round"/>
<line x1="346.56" y1="183.00" x2="352.48" y2="183.00" stroke="#7f98a8" stroke-width="0.5" />
<line x1="347.59" y1="216.00" x2="351.45" y2="216.00" stroke="#7f98a8" stroke-width="0.5" />
<line x1="345.02" y1="199.50" x2="348.97" y2="199.50" stroke="#f0401e" stroke-width="1.5" />
<line x1="350.07" y1="199.50" x2="354.02" y2="199.50" stroke="#f0401e" stroke-width="1.5" />
<path d="M363.94,159.50 L364.44,159.50 C364.54,159.77 364.71,160.03 364.74,160.30 C364.95,162.03 365.04,163.77 365.04,165.50 C365.04,167.00 364.54,168.50 364.54,170.00 C364.54,174.23 365.04,178.47 365.54,182.70 C365.90,185.73 367.43,188.77 367.54,191.80 C367.66,195.13 367.74,198.47 367.74,201.80 C367.74,204.53 366.97,207.27 366.54,210.00 C366.07,213.00 365.29,216.00 365.04,219.00 C364.79,222.07 364.54,225.13 364.54,228.20 C364.54,230.00 365.74,231.80 365.74,233.60 C365.74,235.07 365.48,236.53 365.04,238.00 C364.92,238.40 364.41,238.80 364.09,239.20 L363.94,239.20 L363.79,239.20 C363.47,238.80 362.96,238.40 362.84,238.00 C362.40,236.53 362.14,235.07 362.14,233.60 C362.14,231.80 363.34,230.00 363.34,228.20 C363.34,225.13 363.09,222.07 362.84,219.00 C362.59,216.00 361.81,213.00 361.34,210.00 C360.91,207.27 360.14,204.53 360.14,201.80 C360.14,198.47 360.22,195.13 360.34,191.80 C360.45,188.77 361.98,185.73 362.34,182.70 C362.84,178.47 363.34,174.23 363.34,170.00 C363.34,168.50 362.84,167.00 362.84,165.50 C362.84,163.77 362.93,162.03 363.14,160.30 C363.17,160.03 363.34,159.77 363.44,159.50 Z" fill="#adc3d0" stroke="#1c5578" stroke-width="1.4" stroke-linejoin="round"/>
<line x1="360.28" y1="195.00" x2="367.60" y2="195.00" stroke="#7f98a8" stroke-width="0.5" />
<line x1="361.19" y1="209.00" x2="366.69" y2="209.00" stroke="#7f98a8" stroke-width="0.5" />
<line x1="359.44" y1="201.80" x2="363.39" y2="201.80" stroke="#f0401e" stroke-width="1.5" />
<line x1="364.49" y1="201.80" x2="368.44" y2="201.80" stroke="#f0401e" stroke-width="1.5" />
<path d="M378.36,176.90 L378.96,176.90 C379.13,177.17 379.46,177.43 379.46,177.70 C379.46,179.97 379.26,182.23 379.26,184.50 C379.26,188.77 380.31,193.03 380.96,197.30 C381.31,199.60 382.16,201.90 382.16,204.20 C382.16,205.53 380.70,206.87 380.46,208.20 C380.19,209.70 380.10,211.20 379.96,212.70 C379.64,216.03 379.16,219.37 379.16,222.70 C379.16,226.33 379.16,229.97 379.16,233.60 C379.16,234.13 379.26,234.67 379.26,235.20 C379.26,235.40 378.76,235.60 378.51,235.80 L378.36,235.80 L378.21,235.80 C377.96,235.60 377.46,235.40 377.46,235.20 C377.46,234.67 377.56,234.13 377.56,233.60 C377.56,229.97 377.56,226.33 377.56,222.70 C377.56,219.37 377.08,216.03 376.76,212.70 C376.62,211.20 376.53,209.70 376.26,208.20 C376.02,206.87 374.56,205.53 374.56,204.20 C374.56,201.90 375.41,199.60 375.76,197.30 C376.41,193.03 377.46,188.77 377.46,184.50 C377.46,182.23 377.26,179.97 377.26,177.70 C377.26,177.43 377.59,177.17 377.76,176.90 Z" fill="#adc3d0" stroke="#1c5578" stroke-width="1.4" stroke-linejoin="round"/>
<line x1="373.86" y1="204.20" x2="377.81" y2="204.20" stroke="#f0401e" stroke-width="1.5" />
<line x1="378.91" y1="204.20" x2="382.86" y2="204.20" stroke="#f0401e" stroke-width="1.5" />
<circle cx="392.78" cy="207.4" r="0.9" fill="#1c5578"/>
<line x1="36.40" y1="283.80" x2="36.40" y2="382.90" stroke="#7c7c7c" stroke-width="1.1" />
<line x1="35.90" y1="382.40" x2="408.00" y2="382.40" stroke="#7c7c7c" stroke-width="1.1" />
<line x1="32.80" y1="382.40" x2="36.40" y2="382.40" stroke="#7c7c7c" stroke-width="1.1" />
<text x="31.20" y="385.20" font-size="7.4" text-anchor="end" >0.0</text>
<line x1="32.80" y1="349.53" x2="36.40" y2="349.53" stroke="#7c7c7c" stroke-width="1.1" />
<text x="31.20" y="352.33" font-size="7.4" text-anchor="end" >0.1</text>
<line x1="32.80" y1="316.67" x2="36.40" y2="316.67" stroke="#7c7c7c" stroke-width="1.1" />
<text x="31.20" y="319.47" font-size="7.4" text-anchor="end" >0.2</text>
<line x1="32.80" y1="283.80" x2="36.40" y2="283.80" stroke="#7c7c7c" stroke-width="1.1" />
<text x="31.20" y="286.60" font-size="7.4" text-anchor="end" >0.3</text>
<line x1="36.90" y1="368.50" x2="408.00" y2="368.50" stroke="#adb0fb" stroke-width="0.8" />
<line x1="62.30" y1="382.40" x2="62.30" y2="386.40" stroke="#7c7c7c" stroke-width="1.1" />
<text x="62.30" y="395.00" font-size="7.4" text-anchor="middle" >3</text>
<line x1="102.15" y1="382.40" x2="102.15" y2="386.40" stroke="#7c7c7c" stroke-width="1.1" />
<text x="102.15" y="395.00" font-size="7.4" text-anchor="middle" >4</text>
<line x1="142.00" y1="382.40" x2="142.00" y2="386.40" stroke="#7c7c7c" stroke-width="1.1" />
<text x="142.00" y="395.00" font-size="7.4" text-anchor="middle" >5</text>
<line x1="181.85" y1="382.40" x2="181.85" y2="386.40" stroke="#7c7c7c" stroke-width="1.1" />
<text x="181.85" y="395.00" font-size="7.4" text-anchor="middle" >6</text>
<line x1="221.70" y1="382.40" x2="221.70" y2="386.40" stroke="#7c7c7c" stroke-width="1.1" />
<text x="221.70" y="395.00" font-size="7.4" text-anchor="middle" >7</text>
<line x1="261.55" y1="382.40" x2="261.55" y2="386.40" stroke="#7c7c7c" stroke-width="1.1" />
<text x="261.55" y="395.00" font-size="7.4" text-anchor="middle" >8</text>
<line x1="301.40" y1="382.40" x2="301.40" y2="386.40" stroke="#7c7c7c" stroke-width="1.1" />
<text x="301.40" y="395.00" font-size="7.4" text-anchor="middle" >9</text>
<line x1="341.25" y1="382.40" x2="341.25" y2="386.40" stroke="#7c7c7c" stroke-width="1.1" />
<text x="341.25" y="395.00" font-size="7.4" text-anchor="middle" >10</text>
<line x1="381.10" y1="382.40" x2="381.10" y2="386.40" stroke="#7c7c7c" stroke-width="1.1" />
<text x="381.10" y="395.00" font-size="7.4" text-anchor="middle" >11</text>
<text x="222.00" y="406.50" font-size="8.1" text-anchor="middle" >Group Size</text>
<text transform="translate(15.3,333.8) rotate(-90)" font-size="8.1" text-anchor="middle"><tspan font-style="italic">p</tspan> value Variance</text>
<path d="M62.30,323.00 L62.45,323.00 C62.45,323.33 62.45,323.67 62.45,324.00 C62.45,326.67 62.58,329.33 62.75,332.00 C62.81,333.00 63.15,334.00 63.15,335.00 C63.15,336.00 62.85,337.00 62.85,338.00 C62.85,338.83 63.14,339.67 63.35,340.50 C63.65,341.70 64.00,342.90 64.55,344.10 C65.23,345.60 66.55,347.10 67.95,348.60 C68.95,349.67 70.64,350.73 71.75,351.80 C72.68,352.70 74.25,353.60 74.25,354.50 C74.25,355.27 72.60,356.03 71.55,356.80 C70.32,357.70 68.18,358.60 67.05,359.50 C65.88,360.43 64.67,361.37 64.25,362.30 C63.72,363.50 63.36,364.70 63.25,365.90 C63.07,367.73 63.01,369.57 62.95,371.40 C62.90,372.93 62.85,374.47 62.85,376.00 C62.85,376.43 63.55,376.87 63.55,377.30 C63.55,377.70 62.89,378.10 62.85,378.50 C62.78,379.17 62.75,379.83 62.75,380.50 C62.75,381.13 63.15,381.77 63.35,382.40 L62.30,382.40 L61.25,382.40 C61.45,381.77 61.85,381.13 61.85,380.50 C61.85,379.83 61.82,379.17 61.75,378.50 C61.71,378.10 61.05,377.70 61.05,377.30 C61.05,376.87 61.75,376.43 61.75,376.00 C61.75,374.47 61.70,372.93 61.65,371.40 C61.59,369.57 61.53,367.73 61.35,365.90 C61.24,364.70 60.88,363.50 60.35,362.30 C59.93,361.37 58.72,360.43 57.55,359.50 C56.42,358.60 54.28,357.70 53.05,356.80 C52.00,356.03 50.35,355.27 50.35,354.50 C50.35,353.60 51.92,352.70 52.85,351.80 C53.96,350.73 55.65,349.67 56.65,348.60 C58.05,347.10 59.37,345.60 60.05,344.10 C60.60,342.90 60.95,341.70 61.25,340.50 C61.46,339.67 61.75,338.83 61.75,338.00 C61.75,337.00 61.45,336.00 61.45,335.00 C61.45,334.00 61.79,333.00 61.85,332.00 C62.02,329.33 62.15,326.67 62.15,324.00 C62.15,323.67 62.15,323.33 62.15,323.00 Z" fill="#adc3d0" stroke="#1c5578" stroke-width="1.5" stroke-linejoin="round"/>
<line x1="52.20" y1="352.50" x2="72.40" y2="352.50" stroke="#7f98a8" stroke-width="0.5" />
<line x1="52.70" y1="356.50" x2="71.90" y2="356.50" stroke="#7f98a8" stroke-width="0.5" />
<line x1="49.60" y1="354.50" x2="75.00" y2="354.50" stroke="#f0401e" stroke-width="1.5" stroke-dasharray="2.8,1.6"/>
<path d="M102.15,329.30 L102.30,329.30 C102.37,329.63 102.46,329.97 102.50,330.30 C102.72,332.17 102.78,334.03 102.90,335.90 C103.01,337.73 103.02,339.57 103.20,341.40 C103.34,342.83 103.94,344.27 104.70,345.70 C105.48,347.17 108.01,348.63 109.60,350.10 C110.79,351.20 112.35,352.30 113.10,353.40 C113.58,354.10 114.20,354.80 114.20,355.50 C114.20,356.60 112.38,357.70 111.20,358.80 C110.02,359.90 107.72,361.00 106.90,362.10 C105.83,363.53 105.12,364.97 104.70,366.40 C104.16,368.23 103.95,370.07 103.60,371.90 C103.32,373.37 102.80,374.83 102.80,376.30 C102.80,377.37 103.29,378.43 103.60,379.50 C103.88,380.47 104.27,381.43 104.60,382.40 L102.15,382.40 L99.70,382.40 C100.03,381.43 100.42,380.47 100.70,379.50 C101.01,378.43 101.50,377.37 101.50,376.30 C101.50,374.83 100.98,373.37 100.70,371.90 C100.35,370.07 100.14,368.23 99.60,366.40 C99.18,364.97 98.47,363.53 97.40,362.10 C96.58,361.00 94.28,359.90 93.10,358.80 C91.92,357.70 90.10,356.60 90.10,355.50 C90.10,354.80 90.72,354.10 91.20,353.40 C91.95,352.30 93.51,351.20 94.70,350.10 C96.29,348.63 98.82,347.17 99.60,345.70 C100.36,344.27 100.96,342.83 101.10,341.40 C101.28,339.57 101.29,337.73 101.40,335.90 C101.52,334.03 101.58,332.17 101.80,330.30 C101.84,329.97 101.93,329.63 102.00,329.30 Z" fill="#adc3d0" stroke="#1c5578" stroke-width="1.5" stroke-linejoin="round"/>
<line x1="91.15" y1="353.50" x2="113.15" y2="353.50" stroke="#7f98a8" stroke-width="0.5" />
<line x1="94.01" y1="359.50" x2="110.29" y2="359.50" stroke="#7f98a8" stroke-width="0.5" />
<line x1="90.08" y1="356.30" x2="114.22" y2="356.30" stroke="#f0401e" stroke-width="1.5" stroke-dasharray="2.8,1.6"/>
<path d="M142.00,319.60 L142.15,319.60 C142.15,319.93 142.15,320.27 142.15,320.60 C142.15,324.67 142.27,328.73 142.45,332.80 C142.53,334.70 142.77,336.60 143.05,338.50 C143.21,339.57 143.50,340.63 143.75,341.70 C144.05,342.97 144.25,344.23 144.75,345.50 C145.42,347.20 147.83,348.90 149.25,350.60 C150.33,351.90 151.64,353.20 152.35,354.50 C153.05,355.77 153.95,357.03 153.95,358.30 C153.95,359.57 151.99,360.83 150.75,362.10 C149.51,363.37 146.90,364.63 146.35,365.90 C145.62,367.60 145.40,369.30 145.05,371.00 C144.70,372.70 144.46,374.40 144.15,376.10 C143.92,377.37 143.45,378.63 143.45,379.90 C143.45,380.73 143.92,381.57 144.15,382.40 L142.00,382.40 L139.85,382.40 C140.08,381.57 140.55,380.73 140.55,379.90 C140.55,378.63 140.08,377.37 139.85,376.10 C139.54,374.40 139.30,372.70 138.95,371.00 C138.60,369.30 138.38,367.60 137.65,365.90 C137.10,364.63 134.49,363.37 133.25,362.10 C132.01,360.83 130.05,359.57 130.05,358.30 C130.05,357.03 130.95,355.77 131.65,354.50 C132.36,353.20 133.67,351.90 134.75,350.60 C136.17,348.90 138.58,347.20 139.25,345.50 C139.75,344.23 139.95,342.97 140.25,341.70 C140.50,340.63 140.79,339.57 140.95,338.50 C141.23,336.60 141.47,334.70 141.55,332.80 C141.73,328.73 141.85,324.67 141.85,320.60 C141.85,320.27 141.85,319.93 141.85,319.60 Z" fill="#adc3d0" stroke="#1c5578" stroke-width="1.5" stroke-linejoin="round"/>
<line x1="132.68" y1="353.20" x2="151.32" y2="353.20" stroke="#7f98a8" stroke-width="0.5" />
<line x1="134.64" y1="363.30" x2="149.36" y2="363.30" stroke="#7f98a8" stroke-width="0.5" />
<line x1="129.30" y1="358.30" x2="154.70" y2="358.30" stroke="#f0401e" stroke-width="1.5" stroke-dasharray="2.8,1.6"/>
<path d="M181.85,306.20 L182.00,306.20 C182.00,306.53 182.00,306.87 182.00,307.20 C182.00,313.87 182.03,320.53 182.10,327.20 C182.12,329.13 182.39,331.07 182.50,333.00 C182.54,333.67 182.60,334.33 182.60,335.00 C182.60,336.00 182.40,337.00 182.40,338.00 C182.40,339.00 182.71,340.00 182.90,341.00 C183.10,342.03 183.30,343.07 183.60,344.10 C184.04,345.60 184.65,347.10 185.60,348.60 C186.38,349.83 188.24,351.07 189.50,352.30 C190.42,353.20 191.64,354.10 192.20,355.00 C192.95,356.20 193.80,357.40 193.80,358.60 C193.80,359.83 192.90,361.07 192.20,362.30 C191.52,363.50 190.28,364.70 189.30,365.90 C188.32,367.10 186.47,368.30 186.30,369.50 C186.18,370.33 186.10,371.17 186.10,372.00 C186.10,372.70 186.60,373.40 186.60,374.10 C186.60,374.73 185.33,375.37 185.10,376.00 C184.90,376.57 184.70,377.13 184.70,377.70 C184.70,378.63 185.20,379.57 185.20,380.50 C185.20,381.13 185.13,381.77 185.10,382.40 L181.85,382.40 L178.60,382.40 C178.57,381.77 178.50,381.13 178.50,380.50 C178.50,379.57 179.00,378.63 179.00,377.70 C179.00,377.13 178.80,376.57 178.60,376.00 C178.37,375.37 177.10,374.73 177.10,374.10 C177.10,373.40 177.60,372.70 177.60,372.00 C177.60,371.17 177.52,370.33 177.40,369.50 C177.23,368.30 175.38,367.10 174.40,365.90 C173.42,364.70 172.18,363.50 171.50,362.30 C170.80,361.07 169.90,359.83 169.90,358.60 C169.90,357.40 170.75,356.20 171.50,355.00 C172.06,354.10 173.28,353.20 174.20,352.30 C175.46,351.07 177.32,349.83 178.10,348.60 C179.05,347.10 179.66,345.60 180.10,344.10 C180.40,343.07 180.60,342.03 180.80,341.00 C180.99,340.00 181.30,339.00 181.30,338.00 C181.30,337.00 181.10,336.00 181.10,335.00 C181.10,334.33 181.16,333.67 181.20,333.00 C181.31,331.07 181.58,329.13 181.60,327.20 C181.67,320.53 181.70,313.87 181.70,307.20 C181.70,306.87 181.70,306.53 181.70,306.20 Z" fill="#adc3d0" stroke="#1c5578" stroke-width="1.5" stroke-linejoin="round"/>
<line x1="171.28" y1="355.50" x2="192.42" y2="355.50" stroke="#7f98a8" stroke-width="0.5" />
<line x1="176.57" y1="368.50" x2="187.13" y2="368.50" stroke="#7f98a8" stroke-width="0.5" />
<line x1="170.23" y1="361.10" x2="193.47" y2="361.10" stroke="#f0401e" stroke-width="1.5" stroke-dasharray="2.8,1.6"/>
<path d="M221.70,302.60 L221.85,302.60 C221.85,302.93 221.85,303.27 221.85,303.60 C221.85,309.07 221.95,314.53 222.05,320.00 C222.14,325.00 222.25,330.00 222.55,335.00 C222.73,338.03 223.35,341.07 224.15,344.10 C224.79,346.53 226.16,348.97 227.75,351.40 C228.73,352.90 230.82,354.40 231.85,355.90 C232.58,356.97 233.65,358.03 233.65,359.10 C233.65,359.87 232.99,360.63 232.75,361.40 C232.47,362.30 232.35,363.20 232.05,364.10 C231.65,365.30 230.87,366.50 230.25,367.70 C229.61,368.93 228.60,370.17 228.25,371.40 C227.91,372.60 227.78,373.80 227.55,375.00 C227.32,376.20 226.97,377.40 226.85,378.60 C226.75,379.53 226.65,380.47 226.65,381.40 C226.65,381.73 226.65,382.07 226.65,382.40 L221.70,382.40 L216.75,382.40 C216.75,382.07 216.75,381.73 216.75,381.40 C216.75,380.47 216.65,379.53 216.55,378.60 C216.43,377.40 216.08,376.20 215.85,375.00 C215.62,373.80 215.49,372.60 215.15,371.40 C214.80,370.17 213.79,368.93 213.15,367.70 C212.53,366.50 211.75,365.30 211.35,364.10 C211.05,363.20 210.93,362.30 210.65,361.40 C210.41,360.63 209.75,359.87 209.75,359.10 C209.75,358.03 210.82,356.97 211.55,355.90 C212.58,354.40 214.67,352.90 215.65,351.40 C217.24,348.97 218.61,346.53 219.25,344.10 C220.05,341.07 220.67,338.03 220.85,335.00 C221.15,330.00 221.26,325.00 221.35,320.00 C221.45,314.53 221.55,309.07 221.55,303.60 C221.55,303.27 221.55,302.93 221.55,302.60 Z" fill="#adc3d0" stroke="#1c5578" stroke-width="1.5" stroke-linejoin="round"/>
<line x1="210.93" y1="357.00" x2="232.47" y2="357.00" stroke="#7f98a8" stroke-width="0.5" />
<line x1="215.27" y1="372.00" x2="228.13" y2="372.00" stroke="#7f98a8" stroke-width="0.5" />
<line x1="210.60" y1="364.10" x2="232.80" y2="364.10" stroke="#f0401e" stroke-width="1.5" stroke-dasharray="2.8,1.6"/>
<path d="M261.55,311.50 L261.70,311.50 C261.70,311.83 261.70,312.17 261.70,312.50 C261.70,318.00 261.83,323.50 262.00,329.00 C262.06,331.00 262.22,333.00 262.40,335.00 C262.67,338.03 263.34,341.07 263.80,344.10 C264.17,346.53 264.21,348.97 264.90,351.40 C265.24,352.60 267.19,353.80 268.30,355.00 C269.69,356.50 271.92,358.00 272.40,359.50 C272.90,361.03 273.30,362.57 273.30,364.10 C273.30,365.17 273.30,366.23 273.30,367.30 C273.30,368.67 272.29,370.03 271.90,371.40 C271.55,372.60 271.00,373.80 271.00,375.00 C271.00,375.90 271.50,376.80 271.50,377.70 C271.50,378.63 271.06,379.57 270.60,380.50 C270.35,381.00 270.10,381.50 269.30,382.00 C269.09,382.13 268.30,382.27 267.80,382.40 L261.55,382.40 L255.30,382.40 C254.80,382.27 254.01,382.13 253.80,382.00 C253.00,381.50 252.75,381.00 252.50,380.50 C252.04,379.57 251.60,378.63 251.60,377.70 C251.60,376.80 252.10,375.90 252.10,375.00 C252.10,373.80 251.55,372.60 251.20,371.40 C250.81,370.03 249.80,368.67 249.80,367.30 C249.80,366.23 249.80,365.17 249.80,364.10 C249.80,362.57 250.20,361.03 250.70,359.50 C251.18,358.00 253.41,356.50 254.80,355.00 C255.91,353.80 257.86,352.60 258.20,351.40 C258.89,348.97 258.93,346.53 259.30,344.10 C259.76,341.07 260.43,338.03 260.70,335.00 C260.88,333.00 261.04,331.00 261.10,329.00 C261.27,323.50 261.40,318.00 261.40,312.50 C261.40,312.17 261.40,311.83 261.40,311.50 Z" fill="#adc3d0" stroke="#1c5578" stroke-width="1.5" stroke-linejoin="round"/>
<line x1="250.50" y1="360.50" x2="272.60" y2="360.50" stroke="#7f98a8" stroke-width="0.5" />
<line x1="251.88" y1="374.10" x2="271.23" y2="374.10" stroke="#7f98a8" stroke-width="0.5" />
<line x1="249.05" y1="367.30" x2="274.05" y2="367.30" stroke="#f0401e" stroke-width="1.5" stroke-dasharray="2.8,1.6"/>
<path d="M301.40,322.80 L301.55,322.80 C301.55,323.13 301.55,323.47 301.55,323.80 C301.55,329.20 301.83,334.60 302.15,340.00 C302.32,342.83 302.65,345.67 303.15,348.50 C303.50,350.47 304.24,352.43 305.05,354.40 C305.74,356.07 307.10,357.73 307.85,359.40 C308.36,360.53 308.81,361.67 309.15,362.80 C309.56,364.20 309.92,365.60 310.15,367.00 C310.37,368.33 310.44,369.67 310.65,371.00 C310.80,371.93 311.02,372.87 311.25,373.80 C311.53,374.93 311.81,376.07 312.25,377.20 C312.52,377.90 313.35,378.60 313.35,379.30 C313.35,380.03 313.29,380.77 313.15,381.50 C313.09,381.80 312.48,382.10 312.15,382.40 L301.40,382.40 L290.65,382.40 C290.32,382.10 289.71,381.80 289.65,381.50 C289.51,380.77 289.45,380.03 289.45,379.30 C289.45,378.60 290.28,377.90 290.55,377.20 C290.99,376.07 291.27,374.93 291.55,373.80 C291.78,372.87 292.00,371.93 292.15,371.00 C292.36,369.67 292.43,368.33 292.65,367.00 C292.88,365.60 293.24,364.20 293.65,362.80 C293.99,361.67 294.44,360.53 294.95,359.40 C295.70,357.73 297.06,356.07 297.75,354.40 C298.56,352.43 299.30,350.47 299.65,348.50 C300.15,345.67 300.48,342.83 300.65,340.00 C300.97,334.60 301.25,329.20 301.25,323.80 C301.25,323.47 301.25,323.13 301.25,322.80 Z" fill="#adc3d0" stroke="#1c5578" stroke-width="1.5" stroke-linejoin="round"/>
<line x1="293.41" y1="363.80" x2="309.39" y2="363.80" stroke="#7f98a8" stroke-width="0.5" />
<line x1="290.50" y1="377.30" x2="312.30" y2="377.30" stroke="#7f98a8" stroke-width="0.5" />
<line x1="291.40" y1="371.00" x2="311.40" y2="371.00" stroke="#f0401e" stroke-width="1.5" stroke-dasharray="2.8,1.6"/>
<path d="M341.25,334.30 L341.40,334.30 C341.40,334.63 341.40,334.97 341.40,335.30 C341.40,339.33 341.69,343.37 342.00,347.40 C342.22,350.30 342.71,353.20 343.30,356.10 C343.83,358.70 344.85,361.30 345.70,363.90 C346.27,365.63 347.07,367.37 347.50,369.10 C347.93,370.83 348.00,372.57 348.50,374.30 C348.92,375.77 349.87,377.23 350.90,378.70 C351.32,379.30 352.10,379.90 352.50,380.50 C352.92,381.13 353.17,381.77 353.50,382.40 L341.25,382.40 L329.00,382.40 C329.33,381.77 329.58,381.13 330.00,380.50 C330.40,379.90 331.18,379.30 331.60,378.70 C332.63,377.23 333.58,375.77 334.00,374.30 C334.50,372.57 334.57,370.83 335.00,369.10 C335.43,367.37 336.23,365.63 336.80,363.90 C337.65,361.30 338.67,358.70 339.20,356.10 C339.79,353.20 340.28,350.30 340.50,347.40 C340.81,343.37 341.10,339.33 341.10,335.30 C341.10,334.97 341.10,334.63 341.10,334.30 Z" fill="#adc3d0" stroke="#1c5578" stroke-width="1.5" stroke-linejoin="round"/>
<line x1="335.62" y1="367.30" x2="346.88" y2="367.30" stroke="#7f98a8" stroke-width="0.5" />
<line x1="331.42" y1="378.90" x2="351.08" y2="378.90" stroke="#7f98a8" stroke-width="0.5" />
<line x1="333.03" y1="374.70" x2="349.47" y2="374.70" stroke="#f0401e" stroke-width="1.5" stroke-dasharray="2.8,1.6"/>
<path d="M381.10,352.20 L381.25,352.20 C381.25,352.53 381.25,352.87 381.25,353.20 C381.25,355.90 381.52,358.60 381.85,361.30 C382.06,363.03 382.84,364.77 383.35,366.50 C383.94,368.53 384.46,370.57 385.15,372.60 C385.64,374.07 385.95,375.53 386.85,377.00 C387.38,377.87 388.79,378.73 389.95,379.60 C390.67,380.13 391.79,380.67 392.35,381.20 C392.77,381.60 393.02,382.00 393.35,382.40 L381.10,382.40 L368.85,382.40 C369.18,382.00 369.43,381.60 369.85,381.20 C370.41,380.67 371.53,380.13 372.25,379.60 C373.41,378.73 374.82,377.87 375.35,377.00 C376.25,375.53 376.56,374.07 377.05,372.60 C377.74,370.57 378.26,368.53 378.85,366.50 C379.36,364.77 380.14,363.03 380.35,361.30 C380.68,358.60 380.95,355.90 380.95,353.20 C380.95,352.87 380.95,352.53 380.95,352.20 Z" fill="#adc3d0" stroke="#1c5578" stroke-width="1.5" stroke-linejoin="round"/>
<line x1="376.12" y1="375.00" x2="386.08" y2="375.00" stroke="#7f98a8" stroke-width="0.5" />
<line x1="373.41" y1="378.00" x2="388.79" y2="378.00" stroke="#f0401e" stroke-width="1.5" stroke-dasharray="2.8,1.6"/>
<line x1="33.80" y1="423.30" x2="33.80" y2="521.80" stroke="#7c7c7c" stroke-width="1.1" />
<line x1="33.30" y1="521.30" x2="403.50" y2="521.30" stroke="#7c7c7c" stroke-width="1.1" />
<line x1="30.20" y1="521.30" x2="33.80" y2="521.30" stroke="#7c7c7c" stroke-width="1.1" />
<text x="28.60" y="524.10" font-size="7.4" text-anchor="end" >0</text>
<line x1="30.20" y1="472.30" x2="33.80" y2="472.30" stroke="#7c7c7c" stroke-width="1.1" />
<text x="28.60" y="475.10" font-size="7.4" text-anchor="end" >12</text>
<line x1="30.20" y1="423.30" x2="33.80" y2="423.30" stroke="#7c7c7c" stroke-width="1.1" />
<text x="28.60" y="426.10" font-size="7.4" text-anchor="end" >24</text>
<text transform="translate(15.4,472.29999999999995) rotate(-90)" font-size="8.1" text-anchor="middle">Node Degree</text>
<rect x="34.40" y="435.55" width="1.9" height="85.75" fill="#2a5f82"/>
<rect x="36.70" y="484.55" width="1.9" height="36.75" fill="#ff2d14"/>
<line x1="36.50" y1="521.30" x2="36.50" y2="524.90" stroke="#666" stroke-width="0.7" />
<text transform="translate(38.40,527.0) rotate(-90)" font-size="7.0" text-anchor="end">MD</text>
<rect x="40.57" y="447.80" width="1.9" height="73.50" fill="#2a5f82"/>
<line x1="42.67" y1="521.30" x2="42.67" y2="524.90" stroke="#666" stroke-width="0.7" />
<text transform="translate(44.57,527.0) rotate(-90)" font-size="7.0" text-anchor="end">CA1</text>
<rect x="46.74" y="447.80" width="1.9" height="73.50" fill="#2a5f82"/>
<rect x="49.04" y="504.97" width="1.9" height="16.33" fill="#ff2d14"/>
<line x1="48.84" y1="521.30" x2="48.84" y2="524.90" stroke="#666" stroke-width="0.7" />
<text transform="translate(50.74,527.0) rotate(-90)" font-size="7.0" text-anchor="end">EP</text>
<rect x="52.90" y="447.80" width="1.9" height="73.50" fill="#2a5f82"/>
<rect x="55.20" y="492.72" width="1.9" height="28.58" fill="#ff2d14"/>
<line x1="55.00" y1="521.30" x2="55.00" y2="524.90" stroke="#666" stroke-width="0.7" />
<text transform="translate(56.90,527.0) rotate(-90)" font-size="7.0" text-anchor="end">VPM</text>
<rect x="59.07" y="451.88" width="1.9" height="69.42" fill="#2a5f82"/>
<rect x="61.37" y="488.63" width="1.9" height="32.67" fill="#ff2d14"/>
<line x1="61.17" y1="521.30" x2="61.17" y2="524.90" stroke="#666" stroke-width="0.7" />
<text transform="translate(63.07,527.0) rotate(-90)" font-size="7.0" text-anchor="end">LP</text>
<rect x="65.24" y="460.05" width="1.9" height="61.25" fill="#2a5f82"/>
<rect x="67.54" y="513.13" width="1.9" height="8.17" fill="#ff2d14"/>
<line x1="67.34" y1="521.30" x2="67.34" y2="524.90" stroke="#666" stroke-width="0.7" />
<text transform="translate(69.24,527.0) rotate(-90)" font-size="7.0" text-anchor="end">CA3</text>
<rect x="71.41" y="460.05" width="1.9" height="61.25" fill="#2a5f82"/>
<rect x="73.71" y="517.22" width="1.9" height="4.08" fill="#ff2d14"/>
<line x1="73.51" y1="521.30" x2="73.51" y2="524.90" stroke="#666" stroke-width="0.7" />
<text transform="translate(75.41,527.0) rotate(-90)" font-size="7.0" text-anchor="end">DG</text>
<rect x="77.58" y="464.13" width="1.9" height="57.17" fill="#2a5f82"/>
<rect x="79.88" y="513.13" width="1.9" height="8.17" fill="#ff2d14"/>
<line x1="79.68" y1="521.30" x2="79.68" y2="524.90" stroke="#666" stroke-width="0.7" />
<text transform="translate(81.58,527.0) rotate(-90)" font-size="7.0" text-anchor="end">CEA</text>
<rect x="83.74" y="468.22" width="1.9" height="53.08" fill="#2a5f82"/>
<rect x="86.04" y="517.22" width="1.9" height="4.08" fill="#ff2d14"/>
<line x1="85.84" y1="521.30" x2="85.84" y2="524.90" stroke="#666" stroke-width="0.7" />
<text transform="translate(87.74,527.0) rotate(-90)" font-size="7.0" text-anchor="end">PRE</text>
<rect x="89.91" y="468.22" width="1.9" height="53.08" fill="#2a5f82"/>
<rect x="92.21" y="509.05" width="1.9" height="12.25" fill="#ff2d14"/>
<line x1="92.01" y1="521.30" x2="92.01" y2="524.90" stroke="#666" stroke-width="0.7" />
<text transform="translate(93.91,527.0) rotate(-90)" font-size="7.0" text-anchor="end">PALv</text>
<rect x="96.08" y="472.30" width="1.9" height="49.00" fill="#2a5f82"/>
<rect x="98.38" y="496.80" width="1.9" height="24.50" fill="#ff2d14"/>
<line x1="98.18" y1="521.30" x2="98.18" y2="524.90" stroke="#666" stroke-width="0.7" />
<text transform="translate(100.08,527.0) rotate(-90)" font-size="7.0" text-anchor="end">S1</text>
<rect x="102.25" y="472.30" width="1.9" height="49.00" fill="#2a5f82"/>
<rect x="104.55" y="504.97" width="1.9" height="16.33" fill="#ff2d14"/>
<line x1="104.35" y1="521.30" x2="104.35" y2="524.90" stroke="#666" stroke-width="0.7" />
<text transform="translate(106.25,527.0) rotate(-90)" font-size="7.0" text-anchor="end">MEA</text>
<rect x="108.42" y="476.38" width="1.9" height="44.92" fill="#2a5f82"/>
<line x1="110.52" y1="521.30" x2="110.52" y2="524.90" stroke="#666" stroke-width="0.7" />
<text transform="translate(112.42,527.0) rotate(-90)" font-size="7.0" text-anchor="end">CA2</text>
<rect x="114.58" y="476.38" width="1.9" height="44.92" fill="#2a5f82"/>
<line x1="116.68" y1="521.30" x2="116.68" y2="524.90" stroke="#666" stroke-width="0.7" />
<text transform="translate(118.58,527.0) rotate(-90)" font-size="7.0" text-anchor="end">VL</text>
<rect x="120.75" y="480.47" width="1.9" height="40.83" fill="#2a5f82"/>
<rect x="123.05" y="517.22" width="1.9" height="4.08" fill="#ff2d14"/>
<line x1="122.85" y1="521.30" x2="122.85" y2="524.90" stroke="#666" stroke-width="0.7" />
<text transform="translate(124.75,527.0) rotate(-90)" font-size="7.0" text-anchor="end">VIS</text>
<rect x="126.92" y="480.47" width="1.9" height="40.83" fill="#2a5f82"/>
<rect x="129.22" y="504.97" width="1.9" height="16.33" fill="#ff2d14"/>
<line x1="129.02" y1="521.30" x2="129.02" y2="524.90" stroke="#666" stroke-width="0.7" />
<text transform="translate(130.92,527.0) rotate(-90)" font-size="7.0" text-anchor="end">ENTl</text>
<rect x="133.09" y="480.47" width="1.9" height="40.83" fill="#2a5f82"/>
<rect x="135.39" y="504.97" width="1.9" height="16.33" fill="#ff2d14"/>
<line x1="135.19" y1="521.30" x2="135.19" y2="524.90" stroke="#666" stroke-width="0.7" />
<text transform="translate(137.09,527.0) rotate(-90)" font-size="7.0" text-anchor="end">POST</text>
<rect x="139.26" y="480.47" width="1.9" height="40.83" fill="#2a5f82"/>
<rect x="141.56" y="509.05" width="1.9" height="12.25" fill="#ff2d14"/>
<line x1="141.36" y1="521.30" x2="141.36" y2="524.90" stroke="#666" stroke-width="0.7" />
<text transform="translate(143.26,527.0) rotate(-90)" font-size="7.0" text-anchor="end">NDB</text>
<rect x="145.42" y="480.47" width="1.9" height="40.83" fill="#2a5f82"/>
<rect x="147.72" y="492.72" width="1.9" height="28.58" fill="#ff2d14"/>
<line x1="147.52" y1="521.30" x2="147.52" y2="524.90" stroke="#666" stroke-width="0.7" />
<text transform="translate(149.42,527.0) rotate(-90)" font-size="7.0" text-anchor="end">ILM</text>
<rect x="151.59" y="480.47" width="1.9" height="40.83" fill="#2a5f82"/>
<rect x="153.89" y="500.88" width="1.9" height="20.42" fill="#ff2d14"/>
<line x1="153.69" y1="521.30" x2="153.69" y2="524.90" stroke="#666" stroke-width="0.7" />
<text transform="translate(155.59,527.0) rotate(-90)" font-size="7.0" text-anchor="end">MPA</text>
<rect x="157.76" y="484.55" width="1.9" height="36.75" fill="#2a5f82"/>
<rect x="160.06" y="496.80" width="1.9" height="24.50" fill="#ff2d14"/>
<line x1="159.86" y1="521.30" x2="159.86" y2="524.90" stroke="#666" stroke-width="0.7" />
<text transform="translate(161.76,527.0) rotate(-90)" font-size="7.0" text-anchor="end">LPO</text>
<rect x="163.93" y="484.55" width="1.9" height="36.75" fill="#2a5f82"/>
<rect x="166.23" y="500.88" width="1.9" height="20.42" fill="#ff2d14"/>
<line x1="166.03" y1="521.30" x2="166.03" y2="524.90" stroke="#666" stroke-width="0.7" />
<text transform="translate(167.93,527.0) rotate(-90)" font-size="7.0" text-anchor="end">STN</text>
<rect x="170.10" y="488.63" width="1.9" height="32.67" fill="#2a5f82"/>
<rect x="172.40" y="464.13" width="1.9" height="57.17" fill="#ff2d14"/>
<line x1="172.20" y1="521.30" x2="172.20" y2="524.90" stroke="#666" stroke-width="0.7" />
<text transform="translate(174.10,527.0) rotate(-90)" font-size="7.0" text-anchor="end">IL</text>
<rect x="176.26" y="488.63" width="1.9" height="32.67" fill="#2a5f82"/>
<rect x="178.56" y="464.13" width="1.9" height="57.17" fill="#ff2d14"/>
<line x1="178.36" y1="521.30" x2="178.36" y2="524.90" stroke="#666" stroke-width="0.7" />
<text transform="translate(180.26,527.0) rotate(-90)" font-size="7.0" text-anchor="end">ACA</text>
<rect x="182.43" y="488.63" width="1.9" height="32.67" fill="#2a5f82"/>
<rect x="184.73" y="500.88" width="1.9" height="20.42" fill="#ff2d14"/>
<line x1="184.53" y1="521.30" x2="184.53" y2="524.90" stroke="#666" stroke-width="0.7" />
<text transform="translate(186.43,527.0) rotate(-90)" font-size="7.0" text-anchor="end">PL</text>
<rect x="188.60" y="488.63" width="1.9" height="32.67" fill="#2a5f82"/>
<rect x="190.90" y="496.80" width="1.9" height="24.50" fill="#ff2d14"/>
<line x1="190.70" y1="521.30" x2="190.70" y2="524.90" stroke="#666" stroke-width="0.7" />
<text transform="translate(192.60,527.0) rotate(-90)" font-size="7.0" text-anchor="end">VTA</text>
<rect x="194.77" y="488.63" width="1.9" height="32.67" fill="#2a5f82"/>
<line x1="196.87" y1="521.30" x2="196.87" y2="524.90" stroke="#666" stroke-width="0.7" />
<text transform="translate(198.77,527.0) rotate(-90)" font-size="7.0" text-anchor="end">SAG</text>
<rect x="200.94" y="488.63" width="1.9" height="32.67" fill="#2a5f82"/>
<rect x="203.24" y="513.13" width="1.9" height="8.17" fill="#ff2d14"/>
<line x1="203.04" y1="521.30" x2="203.04" y2="524.90" stroke="#666" stroke-width="0.7" />
<text transform="translate(204.94,527.0) rotate(-90)" font-size="7.0" text-anchor="end">CP</text>
<rect x="207.10" y="488.63" width="1.9" height="32.67" fill="#2a5f82"/>
<rect x="209.40" y="460.05" width="1.9" height="61.25" fill="#ff2d14"/>
<line x1="209.20" y1="521.30" x2="209.20" y2="524.90" stroke="#666" stroke-width="0.7" />
<text transform="translate(211.10,527.0) rotate(-90)" font-size="7.0" text-anchor="end">LSR</text>
<rect x="213.27" y="488.63" width="1.9" height="32.67" fill="#2a5f82"/>
<rect x="215.57" y="464.13" width="1.9" height="57.17" fill="#ff2d14"/>
<line x1="215.37" y1="521.30" x2="215.37" y2="524.90" stroke="#666" stroke-width="0.7" />
<text transform="translate(217.27,527.0) rotate(-90)" font-size="7.0" text-anchor="end">SH</text>
<rect x="219.44" y="492.72" width="1.9" height="28.58" fill="#2a5f82"/>
<rect x="221.74" y="513.13" width="1.9" height="8.17" fill="#ff2d14"/>
<line x1="221.54" y1="521.30" x2="221.54" y2="524.90" stroke="#666" stroke-width="0.7" />
<text transform="translate(223.44,527.0) rotate(-90)" font-size="7.0" text-anchor="end">BLA</text>
<rect x="225.61" y="492.72" width="1.9" height="28.58" fill="#2a5f82"/>
<rect x="227.91" y="464.13" width="1.9" height="57.17" fill="#ff2d14"/>
<line x1="227.71" y1="521.30" x2="227.71" y2="524.90" stroke="#666" stroke-width="0.7" />
<text transform="translate(229.61,527.0) rotate(-90)" font-size="7.0" text-anchor="end">PVT</text>
<rect x="231.78" y="492.72" width="1.9" height="28.58" fill="#2a5f82"/>
<rect x="234.08" y="464.13" width="1.9" height="57.17" fill="#ff2d14"/>
<line x1="233.88" y1="521.30" x2="233.88" y2="524.90" stroke="#666" stroke-width="0.7" />
<text transform="translate(235.78,527.0) rotate(-90)" font-size="7.0" text-anchor="end">ZI</text>
<rect x="237.94" y="496.80" width="1.9" height="24.50" fill="#2a5f82"/>
<rect x="240.24" y="464.13" width="1.9" height="57.17" fill="#ff2d14"/>
<line x1="240.04" y1="521.30" x2="240.04" y2="524.90" stroke="#666" stroke-width="0.7" />
<text transform="translate(241.94,527.0) rotate(-90)" font-size="7.0" text-anchor="end">SMT</text>
<rect x="244.11" y="496.80" width="1.9" height="24.50" fill="#2a5f82"/>
<rect x="246.41" y="464.13" width="1.9" height="57.17" fill="#ff2d14"/>
<line x1="246.21" y1="521.30" x2="246.21" y2="524.90" stroke="#666" stroke-width="0.7" />
<text transform="translate(248.11,527.0) rotate(-90)" font-size="7.0" text-anchor="end">LM</text>
<rect x="250.28" y="500.88" width="1.9" height="20.42" fill="#2a5f82"/>
<rect x="252.58" y="476.38" width="1.9" height="44.92" fill="#ff2d14"/>
<line x1="252.38" y1="521.30" x2="252.38" y2="524.90" stroke="#666" stroke-width="0.7" />
<text transform="translate(254.28,527.0) rotate(-90)" font-size="7.0" text-anchor="end">AID</text>
<rect x="256.45" y="500.88" width="1.9" height="20.42" fill="#2a5f82"/>
<rect x="258.75" y="488.63" width="1.9" height="32.67" fill="#ff2d14"/>
<line x1="258.55" y1="521.30" x2="258.55" y2="524.90" stroke="#666" stroke-width="0.7" />
<text transform="translate(260.45,527.0) rotate(-90)" font-size="7.0" text-anchor="end">LSV</text>
<rect x="262.62" y="500.88" width="1.9" height="20.42" fill="#2a5f82"/>
<line x1="264.72" y1="521.30" x2="264.72" y2="524.90" stroke="#666" stroke-width="0.7" />
<text transform="translate(266.62,527.0) rotate(-90)" font-size="7.0" text-anchor="end">SF</text>
<rect x="268.78" y="500.88" width="1.9" height="20.42" fill="#2a5f82"/>
<rect x="271.08" y="509.05" width="1.9" height="12.25" fill="#ff2d14"/>
<line x1="270.88" y1="521.30" x2="270.88" y2="524.90" stroke="#666" stroke-width="0.7" />
<text transform="translate(272.78,527.0) rotate(-90)" font-size="7.0" text-anchor="end">EPI</text>
<rect x="274.95" y="504.97" width="1.9" height="16.33" fill="#2a5f82"/>
<rect x="277.25" y="513.13" width="1.9" height="8.17" fill="#ff2d14"/>
<line x1="277.05" y1="521.30" x2="277.05" y2="524.90" stroke="#666" stroke-width="0.7" />
<text transform="translate(278.95,527.0) rotate(-90)" font-size="7.0" text-anchor="end">GU</text>
<rect x="281.12" y="504.97" width="1.9" height="16.33" fill="#2a5f82"/>
<line x1="283.22" y1="521.30" x2="283.22" y2="524.90" stroke="#666" stroke-width="0.7" />
<text transform="translate(285.12,527.0) rotate(-90)" font-size="7.0" text-anchor="end">PBG</text>
<rect x="287.29" y="504.97" width="1.9" height="16.33" fill="#2a5f82"/>
<rect x="289.59" y="513.13" width="1.9" height="8.17" fill="#ff2d14"/>
<line x1="289.39" y1="521.30" x2="289.39" y2="524.90" stroke="#666" stroke-width="0.7" />
<text transform="translate(291.29,527.0) rotate(-90)" font-size="7.0" text-anchor="end">PAR</text>
<rect x="293.46" y="504.97" width="1.9" height="16.33" fill="#2a5f82"/>
<rect x="295.76" y="500.88" width="1.9" height="20.42" fill="#ff2d14"/>
<line x1="295.56" y1="521.30" x2="295.56" y2="524.90" stroke="#666" stroke-width="0.7" />
<text transform="translate(297.46,527.0) rotate(-90)" font-size="7.0" text-anchor="end">LSC</text>
<rect x="299.62" y="504.97" width="1.9" height="16.33" fill="#2a5f82"/>
<line x1="301.72" y1="521.30" x2="301.72" y2="524.90" stroke="#666" stroke-width="0.7" />
<text transform="translate(303.62,527.0) rotate(-90)" font-size="7.0" text-anchor="end">MS</text>
<rect x="305.79" y="504.97" width="1.9" height="16.33" fill="#2a5f82"/>
<rect x="308.09" y="464.13" width="1.9" height="57.17" fill="#ff2d14"/>
<line x1="307.89" y1="521.30" x2="307.89" y2="524.90" stroke="#666" stroke-width="0.7" />
<text transform="translate(309.79,527.0) rotate(-90)" font-size="7.0" text-anchor="end">AV</text>
<rect x="311.96" y="504.97" width="1.9" height="16.33" fill="#2a5f82"/>
<line x1="314.06" y1="521.30" x2="314.06" y2="524.90" stroke="#666" stroke-width="0.7" />
<text transform="translate(315.96,527.0) rotate(-90)" font-size="7.0" text-anchor="end">DM</text>
<rect x="318.13" y="504.97" width="1.9" height="16.33" fill="#2a5f82"/>
<line x1="320.23" y1="521.30" x2="320.23" y2="524.90" stroke="#666" stroke-width="0.7" />
<text transform="translate(322.13,527.0) rotate(-90)" font-size="7.0" text-anchor="end">RE</text>
<rect x="324.30" y="509.05" width="1.9" height="12.25" fill="#2a5f82"/>
<rect x="326.60" y="464.13" width="1.9" height="57.17" fill="#ff2d14"/>
<line x1="326.40" y1="521.30" x2="326.40" y2="524.90" stroke="#666" stroke-width="0.7" />
<text transform="translate(328.30,527.0) rotate(-90)" font-size="7.0" text-anchor="end">RSC</text>
<rect x="330.46" y="509.05" width="1.9" height="12.25" fill="#2a5f82"/>
<rect x="332.76" y="517.22" width="1.9" height="4.08" fill="#ff2d14"/>
<line x1="332.56" y1="521.30" x2="332.56" y2="524.90" stroke="#666" stroke-width="0.7" />
<text transform="translate(334.46,527.0) rotate(-90)" font-size="7.0" text-anchor="end">PAG</text>
<rect x="336.63" y="509.05" width="1.9" height="12.25" fill="#2a5f82"/>
<rect x="338.93" y="509.05" width="1.9" height="12.25" fill="#ff2d14"/>
<line x1="338.73" y1="521.30" x2="338.73" y2="524.90" stroke="#666" stroke-width="0.7" />
<text transform="translate(340.63,527.0) rotate(-90)" font-size="7.0" text-anchor="end">SN</text>
<rect x="342.80" y="509.05" width="1.9" height="12.25" fill="#2a5f82"/>
<rect x="345.10" y="468.22" width="1.9" height="53.08" fill="#ff2d14"/>
<line x1="344.90" y1="521.30" x2="344.90" y2="524.90" stroke="#666" stroke-width="0.7" />
<text transform="translate(346.80,527.0) rotate(-90)" font-size="7.0" text-anchor="end">BMA</text>
<rect x="348.97" y="509.05" width="1.9" height="12.25" fill="#2a5f82"/>
<rect x="351.27" y="464.13" width="1.9" height="57.17" fill="#ff2d14"/>
<line x1="351.07" y1="521.30" x2="351.07" y2="524.90" stroke="#666" stroke-width="0.7" />
<text transform="translate(352.97,527.0) rotate(-90)" font-size="7.0" text-anchor="end">AD</text>
<rect x="355.14" y="509.05" width="1.9" height="12.25" fill="#2a5f82"/>
<rect x="357.44" y="513.13" width="1.9" height="8.17" fill="#ff2d14"/>
<line x1="357.24" y1="521.30" x2="357.24" y2="524.90" stroke="#666" stroke-width="0.7" />
<text transform="translate(359.14,527.0) rotate(-90)" font-size="7.0" text-anchor="end">MM</text>
<rect x="361.30" y="509.05" width="1.9" height="12.25" fill="#2a5f82"/>
<rect x="363.60" y="472.30" width="1.9" height="49.00" fill="#ff2d14"/>
<line x1="363.40" y1="521.30" x2="363.40" y2="524.90" stroke="#666" stroke-width="0.7" />
<text transform="translate(365.30,527.0) rotate(-90)" font-size="7.0" text-anchor="end">LH</text>
<rect x="367.47" y="513.13" width="1.9" height="8.17" fill="#2a5f82"/>
<rect x="369.77" y="517.22" width="1.9" height="4.08" fill="#ff2d14"/>
<line x1="369.57" y1="521.30" x2="369.57" y2="524.90" stroke="#666" stroke-width="0.7" />
<text transform="translate(371.47,527.0) rotate(-90)" font-size="7.0" text-anchor="end">VISC</text>
<rect x="373.64" y="513.13" width="1.9" height="8.17" fill="#2a5f82"/>
<rect x="375.94" y="517.22" width="1.9" height="4.08" fill="#ff2d14"/>
<line x1="375.74" y1="521.30" x2="375.74" y2="524.90" stroke="#666" stroke-width="0.7" />
<text transform="translate(377.64,527.0) rotate(-90)" font-size="7.0" text-anchor="end">ECT</text>
<rect x="379.81" y="513.13" width="1.9" height="8.17" fill="#2a5f82"/>
<rect x="382.11" y="517.22" width="1.9" height="4.08" fill="#ff2d14"/>
<line x1="381.91" y1="521.30" x2="381.91" y2="524.90" stroke="#666" stroke-width="0.7" />
<text transform="translate(383.81,527.0) rotate(-90)" font-size="7.0" text-anchor="end">ACB</text>
<rect x="385.98" y="513.13" width="1.9" height="8.17" fill="#2a5f82"/>
<rect x="388.28" y="513.13" width="1.9" height="8.17" fill="#ff2d14"/>
<line x1="388.08" y1="521.30" x2="388.08" y2="524.90" stroke="#666" stroke-width="0.7" />
<text transform="translate(389.98,527.0) rotate(-90)" font-size="7.0" text-anchor="end">GP</text>
<rect x="392.14" y="513.13" width="1.9" height="8.17" fill="#2a5f82"/>
<rect x="394.44" y="509.05" width="1.9" height="12.25" fill="#ff2d14"/>
<line x1="394.24" y1="521.30" x2="394.24" y2="524.90" stroke="#666" stroke-width="0.7" />
<text transform="translate(396.14,527.0) rotate(-90)" font-size="7.0" text-anchor="end">BST</text>
<rect x="398.31" y="513.13" width="1.9" height="8.17" fill="#2a5f82"/>
<rect x="400.61" y="464.13" width="1.9" height="57.17" fill="#ff2d14"/>
<line x1="400.41" y1="521.30" x2="400.41" y2="524.90" stroke="#666" stroke-width="0.7" />
<text transform="translate(402.31,527.0) rotate(-90)" font-size="7.0" text-anchor="end">AM</text>
<rect x="354.2" y="427" width="10.4" height="4.9" fill="#2a5f82"/>
<rect x="354.2" y="441" width="10.4" height="4.9" fill="#ff2d14"/>
<text x="370.8" y="432.4" font-size="7.6"><tspan font-style="italic">n</tspan> = <tspan font-style="italic">12</tspan></text>
<text x="370.8" y="446.6" font-size="7.6"><tspan font-style="italic">n</tspan> = 5</text>
</svg></body></html>
